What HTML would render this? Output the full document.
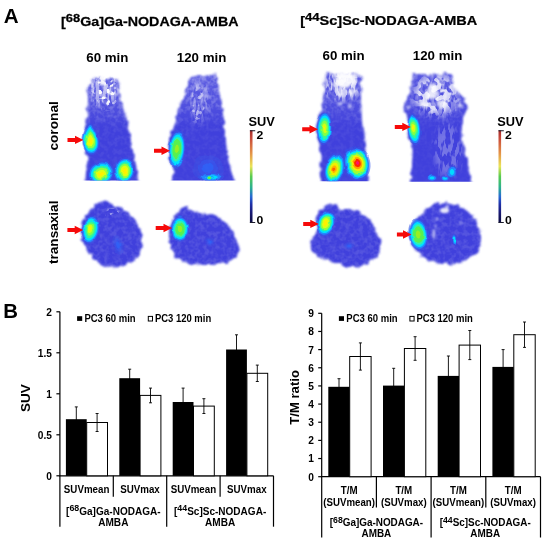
<!DOCTYPE html>
<html lang="en"><head><meta charset="utf-8"><title>Figure</title>
<style>
html,body{margin:0;padding:0;background:#fff;}
svg{display:block;}
text{font-family:"Liberation Sans",sans-serif;font-weight:bold;fill:#000;}
</style></head><body>
<svg width="550" height="545" viewBox="0 0 550 545">
<defs>
<filter id="rough" x="-10%" y="-10%" width="120%" height="120%">
<feTurbulence type="fractalNoise" baseFrequency="0.16" numOctaves="2" seed="4" result="n"/>
<feDisplacementMap in="SourceGraphic" in2="n" scale="6" xChannelSelector="R" yChannelSelector="G"/>
<feGaussianBlur stdDeviation="1.1"/>
</filter>
<filter id="b1" x="-20%" y="-20%" width="140%" height="140%"><feGaussianBlur stdDeviation="0.9"/></filter>
<filter id="b2" x="-30%" y="-30%" width="160%" height="160%"><feGaussianBlur stdDeviation="1.5"/></filter>
<filter id="rough2" x="-10%" y="-10%" width="120%" height="120%">
<feTurbulence type="fractalNoise" baseFrequency="0.09" numOctaves="2" seed="11" result="n"/>
<feDisplacementMap in="SourceGraphic" in2="n" scale="6" xChannelSelector="R" yChannelSelector="G"/>
</filter>
<filter id="speckA" x="0" y="0" width="1" height="1">
<feTurbulence type="fractalNoise" baseFrequency="0.2" numOctaves="2" seed="7" result="n"/>
<feColorMatrix in="n" type="matrix" values="0 0 0 0 1  0 0 0 0 1  0 0 0 0 1  0 0 0 9 -5.0" result="m"/>
<feComposite in="m" in2="SourceGraphic" operator="in"/>
<feGaussianBlur stdDeviation="0.5"/>
</filter>
<filter id="speckB" x="0" y="0" width="1" height="1">
<feTurbulence type="fractalNoise" baseFrequency="0.14" numOctaves="2" seed="3" result="n"/>
<feColorMatrix in="n" type="matrix" values="0 0 0 0 1  0 0 0 0 1  0 0 0 0 1  0 0 0 10 -4.7" result="m"/>
<feComposite in="m" in2="SourceGraphic" operator="in"/>
<feGaussianBlur stdDeviation="0.5"/>
</filter>
<filter id="speckC" x="0" y="0" width="1" height="1">
<feTurbulence type="fractalNoise" baseFrequency="0.26 0.09" numOctaves="2" seed="5" result="n"/>
<feColorMatrix in="n" type="matrix" values="0 0 0 0 1  0 0 0 0 1  0 0 0 0 1  0 0 0 9 -4.2" result="m"/>
<feComposite in="m" in2="SourceGraphic" operator="in"/>
<feGaussianBlur stdDeviation="0.55"/>
</filter>
<radialGradient id="wfade">
<stop offset="0" stop-color="#fff" stop-opacity="1"/>
<stop offset="0.6" stop-color="#fff" stop-opacity="0.9"/>
<stop offset="1" stop-color="#fff" stop-opacity="0"/>
</radialGradient>
<linearGradient id="fadeDown" x1="0" y1="0" x2="0" y2="1">
<stop offset="0" stop-color="#fff" stop-opacity="1"/>
<stop offset="0.6" stop-color="#fff" stop-opacity="0.8"/>
<stop offset="1" stop-color="#fff" stop-opacity="0"/>
</linearGradient>
<linearGradient id="cbar" x1="0" y1="0" x2="0" y2="1">
<stop offset="0" stop-color="#a02c2c"/>
<stop offset="0.08" stop-color="#c8483a"/>
<stop offset="0.25" stop-color="#e49448"/>
<stop offset="0.39" stop-color="#eae458"/>
<stop offset="0.5" stop-color="#58cc50"/>
<stop offset="0.62" stop-color="#2cb090"/>
<stop offset="0.72" stop-color="#2868d4"/>
<stop offset="0.8" stop-color="#2030a8"/>
<stop offset="0.9" stop-color="#181870"/>
<stop offset="1" stop-color="#0c0c40"/>
</linearGradient>
<!-- hot spot gradients (jet) -->
<radialGradient id="gY">
<stop offset="0" stop-color="#fff000"/>
<stop offset="0.2" stop-color="#e4ff10"/>
<stop offset="0.38" stop-color="#90ff40"/>
<stop offset="0.52" stop-color="#30f4a0"/>
<stop offset="0.65" stop-color="#00e0ff"/>
<stop offset="0.77" stop-color="#2090ff"/>
<stop offset="0.9" stop-color="#3c50e4" stop-opacity="0.7"/>
<stop offset="1" stop-color="#4040dc" stop-opacity="0"/>
</radialGradient>
<radialGradient id="gG">
<stop offset="0" stop-color="#b0f020"/>
<stop offset="0.25" stop-color="#70f040"/>
<stop offset="0.45" stop-color="#40f090"/>
<stop offset="0.62" stop-color="#00e0ff"/>
<stop offset="0.77" stop-color="#2090ff"/>
<stop offset="0.9" stop-color="#3c50e4" stop-opacity="0.7"/>
<stop offset="1" stop-color="#4040dc" stop-opacity="0"/>
</radialGradient>
<radialGradient id="gR">
<stop offset="0" stop-color="#ff1070"/>
<stop offset="0.1" stop-color="#ff2000"/>
<stop offset="0.24" stop-color="#ff9000"/>
<stop offset="0.38" stop-color="#f8f000"/>
<stop offset="0.52" stop-color="#70ff50"/>
<stop offset="0.65" stop-color="#00e0ff"/>
<stop offset="0.77" stop-color="#2090ff"/>
<stop offset="0.9" stop-color="#3c50e4" stop-opacity="0.7"/>
<stop offset="1" stop-color="#4040dc" stop-opacity="0"/>
</radialGradient>
<radialGradient id="gO">
<stop offset="0" stop-color="#ff6000"/>
<stop offset="0.15" stop-color="#ffa800"/>
<stop offset="0.34" stop-color="#f0f000"/>
<stop offset="0.5" stop-color="#70ff50"/>
<stop offset="0.65" stop-color="#00e0ff"/>
<stop offset="0.77" stop-color="#2090ff"/>
<stop offset="0.9" stop-color="#3c50e4" stop-opacity="0.7"/>
<stop offset="1" stop-color="#4040dc" stop-opacity="0"/>
</radialGradient>
<radialGradient id="gC">
<stop offset="0" stop-color="#00e8ff"/>
<stop offset="0.45" stop-color="#2098ff"/>
<stop offset="0.8" stop-color="#3c50e4" stop-opacity="0.7"/>
<stop offset="1" stop-color="#4040dc" stop-opacity="0"/>
</radialGradient>
<radialGradient id="gB">
<stop offset="0" stop-color="#2a68ff"/>
<stop offset="1" stop-color="#4040dc" stop-opacity="0"/>
</radialGradient>
<linearGradient id="vfade" x1="0" y1="0" x2="0" y2="1">
<stop offset="0" stop-color="#fff" stop-opacity="0.55"/>
<stop offset="0.3" stop-color="#fff" stop-opacity="0.35"/>
<stop offset="0.5" stop-color="#fff" stop-opacity="0.12"/>
<stop offset="1" stop-color="#fff" stop-opacity="0.06"/>
</linearGradient>
<linearGradient id="vsmooth" x1="0" y1="0" x2="0" y2="1">
<stop offset="0" stop-color="#fff" stop-opacity="0.3"/>
<stop offset="0.25" stop-color="#fff" stop-opacity="0.2"/>
<stop offset="0.5" stop-color="#fff" stop-opacity="0"/>
</linearGradient>
<filter id="hotf" x="-10%" y="-10%" width="120%" height="120%">
<feTurbulence type="fractalNoise" baseFrequency="0.1" numOctaves="2" seed="11" result="n"/>
<feDisplacementMap in="SourceGraphic" in2="n" scale="3" xChannelSelector="R" yChannelSelector="G"/>
<feGaussianBlur stdDeviation="0.75"/>
</filter>
<filter id="mottle" x="0" y="0" width="1" height="1">
<feTurbulence type="fractalNoise" baseFrequency="0.22" numOctaves="2" seed="21" result="n"/>
<feColorMatrix in="n" type="matrix" values="0 0 0 0 1  0 0 0 0 1  0 0 0 0 1  0 0 0 3 -1.15" result="m"/>
<feComposite in="m" in2="SourceGraphic" operator="in"/>
<feGaussianBlur stdDeviation="0.6"/>
</filter>
</defs>
<rect width="550" height="545" fill="#fff"/>

<text x="3.8" y="22.6" font-size="20.6">A</text>
<text transform="translate(61 26.4) scale(1.115 1)" font-size="12.8" stroke="#000" stroke-width="0.25">[<tspan dy="-4.3" font-size="11.6">68</tspan><tspan dy="4.3">Ga]Ga-NODAGA-AMBA</tspan></text>
<text transform="translate(300.2 25.4) scale(1.131 1)" font-size="12.8" stroke="#000" stroke-width="0.25">[<tspan dy="-4.3" font-size="11.6">44</tspan><tspan dy="4.3">Sc]Sc-NODAGA-AMBA</tspan></text>
<text x="107.3" y="61.6" font-size="13.3" text-anchor="middle">60 min</text>
<text x="201.6" y="61.6" font-size="13.3" text-anchor="middle">120 min</text>
<text x="343.6" y="60.4" font-size="13.3" text-anchor="middle">60 min</text>
<text x="437.6" y="60.4" font-size="13.3" text-anchor="middle">120 min</text>
<text transform="translate(58.3 125.9) rotate(-90)" font-size="13.7" text-anchor="middle">coronal</text>
<text transform="translate(58.3 232.3) rotate(-90)" font-size="13.6" text-anchor="middle">transaxial</text>
<clipPath id="cp1"><rect x="75" y="72" width="70" height="108.6"/></clipPath>
<g clip-path="url(#cp1)">
<path d="M94.0 79.0C95.7 78.2 97.7 78.1 100.0 78.0C102.3 77.9 105.2 78.5 108.0 78.5C110.8 78.5 114.7 76.9 116.5 78.0C118.3 79.1 118.4 82.5 119.0 85.0C119.6 87.5 119.4 89.8 120.0 93.0C120.6 96.2 121.7 100.3 122.5 104.0C123.3 107.7 124.1 111.5 125.0 115.0C125.9 118.5 127.1 121.2 128.0 125.0C128.9 128.8 129.5 132.8 130.5 138.0C131.5 143.2 133.0 151.0 134.0 156.0C135.0 161.0 135.8 164.0 136.5 168.0C137.2 172.0 137.7 176.0 138.0 180.0C138.3 184.0 147.2 190.0 138.5 192.0C129.8 194.0 94.3 194.0 85.5 192.0C76.7 190.0 85.4 183.3 85.5 180.0C85.6 176.7 85.7 175.7 86.0 172.0C86.3 168.3 87.6 161.3 87.5 158.0C87.4 154.7 86.2 154.5 85.5 152.0C84.8 149.5 83.9 145.8 83.6 143.0C83.3 140.2 83.3 137.8 83.6 135.0C83.9 132.2 84.9 129.3 85.5 126.0C86.1 122.7 86.6 119.3 87.0 115.0C87.4 110.7 87.9 104.2 88.0 100.0C88.1 95.8 87.2 92.8 87.5 90.0C87.8 87.2 88.9 84.8 90.0 83.0C91.1 81.2 92.3 79.8 94.0 79.0Z" fill="#4040dc" filter="url(#rough)"/>
<rect x="75" y="72" width="70" height="112" fill="url(#vsmooth)" opacity="0.6"/>
<rect x="75" y="72" width="70" height="112" fill="url(#vfade)" opacity="0.6" filter="url(#mottle)"/>
<ellipse cx="105" cy="92" rx="16" ry="20" fill="url(#wfade)" opacity="1.0" filter="url(#speckA)"/>
<ellipse cx="104" cy="90" rx="19" ry="20" fill="url(#wfade)" opacity="0.55" filter="url(#speckC)"/>
<ellipse cx="106" cy="80" rx="16" ry="7" fill="url(#wfade)" opacity="0.9" filter="url(#speckB)"/>
<g filter="url(#hotf)">
<path d="M90.2 122.9C91.5 123.0 93.0 125.4 94.2 127.2C95.4 129.1 96.4 131.8 97.3 134.1C98.1 136.3 99.0 138.6 99.3 140.9C99.5 143.2 99.4 145.7 98.8 147.7C98.2 149.7 97.1 151.9 95.8 153.0C94.5 154.2 92.7 154.8 91.1 154.8C89.5 154.7 87.7 153.9 86.4 152.7C85.1 151.4 83.8 149.1 83.2 147.1C82.5 145.0 82.2 142.6 82.3 140.3C82.4 137.9 82.9 135.1 83.7 132.8C84.4 130.5 85.7 128.3 86.8 126.6C87.9 125.0 89.0 122.8 90.2 122.9Z" fill="#3458ea" fill-opacity="0.55"/><path d="M90.3 125.0C91.4 125.1 92.7 127.2 93.8 128.8C94.8 130.5 95.8 132.9 96.5 134.9C97.3 136.9 98.1 138.9 98.3 140.9C98.5 143.0 98.4 145.2 97.9 147.0C97.3 148.8 96.4 150.7 95.2 151.7C94.1 152.8 92.4 153.3 91.0 153.3C89.6 153.2 88.0 152.5 86.9 151.4C85.7 150.3 84.6 148.3 84.0 146.4C83.4 144.6 83.2 142.5 83.2 140.4C83.3 138.3 83.8 135.8 84.4 133.8C85.1 131.8 86.2 129.8 87.2 128.3C88.2 126.8 89.2 124.9 90.3 125.0Z" fill="#2488ff" fill-opacity="1"/><path d="M90.3 127.1C91.3 127.2 92.5 129.0 93.4 130.5C94.3 131.9 95.1 134.0 95.8 135.7C96.4 137.5 97.1 139.3 97.3 141.0C97.5 142.8 97.4 144.7 96.9 146.3C96.5 147.9 95.6 149.5 94.6 150.4C93.6 151.3 92.2 151.8 91.0 151.8C89.8 151.7 88.4 151.1 87.3 150.1C86.3 149.1 85.4 147.4 84.8 145.8C84.3 144.2 84.1 142.4 84.2 140.5C84.2 138.7 84.6 136.5 85.2 134.8C85.8 133.0 86.8 131.3 87.6 130.0C88.5 128.7 89.4 127.0 90.3 127.1Z" fill="#00e0ff" fill-opacity="1"/><path d="M90.4 129.5C91.2 129.6 92.2 131.1 92.9 132.3C93.7 133.5 94.4 135.2 94.9 136.7C95.5 138.2 96.0 139.6 96.2 141.1C96.4 142.6 96.3 144.2 95.9 145.5C95.5 146.8 94.8 148.2 94.0 148.9C93.1 149.7 91.9 150.1 90.9 150.1C89.9 150.0 88.7 149.5 87.9 148.7C87.0 147.9 86.2 146.4 85.8 145.1C85.4 143.8 85.2 142.2 85.2 140.7C85.3 139.2 85.6 137.4 86.1 135.9C86.6 134.4 87.4 133.0 88.1 131.9C88.8 130.8 89.6 129.4 90.4 129.5Z" fill="#30f4a0" fill-opacity="1"/><path d="M90.4 131.9C91.0 132.0 91.8 133.2 92.5 134.1C93.1 135.1 93.6 136.5 94.1 137.7C94.5 138.8 95.0 140.0 95.1 141.2C95.2 142.4 95.1 143.7 94.8 144.7C94.5 145.7 93.9 146.8 93.3 147.5C92.6 148.1 91.7 148.4 90.9 148.3C90.0 148.3 89.1 147.9 88.4 147.3C87.7 146.6 87.1 145.4 86.8 144.4C86.4 143.3 86.3 142.1 86.3 140.9C86.4 139.6 86.6 138.2 87.0 137.0C87.4 135.8 88.1 134.7 88.6 133.8C89.2 133.0 89.8 131.8 90.4 131.9Z" fill="#90ff40" fill-opacity="1"/><path d="M90.5 134.8C90.9 134.8 91.5 135.6 91.9 136.3C92.3 137.0 92.7 138.0 93.0 138.8C93.3 139.6 93.7 140.5 93.8 141.3C93.8 142.1 93.8 143.0 93.6 143.8C93.4 144.5 93.0 145.3 92.5 145.7C92.0 146.1 91.3 146.3 90.8 146.3C90.2 146.3 89.5 146.0 89.1 145.6C88.6 145.1 88.1 144.3 87.9 143.5C87.7 142.8 87.6 141.9 87.6 141.1C87.6 140.2 87.8 139.2 88.1 138.3C88.3 137.5 88.8 136.7 89.2 136.1C89.6 135.5 90.0 134.7 90.5 134.8Z" fill="#e0ff10" fill-opacity="1"/><path d="M90.5 137.8C90.8 137.8 91.1 138.2 91.3 138.6C91.6 139.0 91.8 139.5 91.9 140.0C92.1 140.5 92.3 140.9 92.3 141.4C92.4 141.8 92.4 142.3 92.2 142.8C92.1 143.2 91.9 143.6 91.6 143.8C91.4 144.1 91.0 144.2 90.7 144.2C90.4 144.2 90.0 144.0 89.8 143.8C89.5 143.5 89.2 143.0 89.1 142.6C89.0 142.2 88.9 141.7 88.9 141.2C88.9 140.8 89.0 140.2 89.2 139.8C89.3 139.3 89.6 138.8 89.8 138.5C90.0 138.2 90.3 137.7 90.5 137.8Z" fill="#fff000" fill-opacity="1"/>
<path d="M113.0 167.5C113.7 168.8 114.0 170.5 114.0 172.0C114.0 173.5 113.6 175.2 113.0 176.7C112.3 178.2 111.3 179.6 110.1 180.8C108.9 182.0 107.4 183.1 105.9 183.8C104.3 184.5 102.5 185.0 100.8 185.2C99.2 185.3 97.4 185.1 95.8 184.7C94.3 184.2 92.8 183.4 91.6 182.5C90.4 181.5 89.4 180.2 88.7 178.8C88.1 177.4 87.8 175.8 87.8 174.3C87.8 172.7 88.1 171.1 88.8 169.6C89.4 168.1 90.4 166.6 91.6 165.4C92.8 164.3 94.4 163.2 95.9 162.5C97.4 161.7 99.3 161.3 100.9 161.1C102.6 161.0 104.4 161.1 105.9 161.6C107.5 162.0 109.0 162.8 110.2 163.8C111.4 164.8 112.4 166.1 113.0 167.5Z" fill="#3458ea" fill-opacity="0.55"/><path d="M111.7 168.3C112.3 169.5 112.6 171.0 112.6 172.3C112.6 173.7 112.3 175.2 111.7 176.5C111.1 177.8 110.2 179.1 109.2 180.2C108.1 181.2 106.7 182.2 105.4 182.8C104.0 183.5 102.4 183.9 100.9 184.0C99.4 184.2 97.8 184.0 96.5 183.6C95.1 183.2 93.7 182.5 92.7 181.6C91.6 180.7 90.7 179.6 90.2 178.4C89.6 177.2 89.3 175.7 89.3 174.4C89.3 173.0 89.6 171.5 90.2 170.2C90.8 168.9 91.7 167.6 92.7 166.5C93.8 165.5 95.2 164.5 96.5 163.9C97.9 163.2 99.5 162.8 101.0 162.7C102.5 162.5 104.1 162.7 105.4 163.1C106.8 163.5 108.2 164.2 109.2 165.1C110.3 166.0 111.2 167.1 111.7 168.3Z" fill="#2488ff" fill-opacity="1"/><path d="M110.4 169.2C110.9 170.2 111.2 171.5 111.2 172.7C111.2 173.9 110.9 175.2 110.4 176.3C109.9 177.4 109.1 178.6 108.2 179.5C107.3 180.4 106.1 181.3 104.9 181.8C103.7 182.4 102.3 182.8 101.0 182.9C99.7 183.0 98.3 182.9 97.1 182.5C95.9 182.2 94.7 181.5 93.8 180.8C92.9 180.0 92.1 179.0 91.6 177.9C91.1 176.9 90.9 175.6 90.9 174.4C90.9 173.3 91.2 172.0 91.7 170.8C92.2 169.7 92.9 168.5 93.9 167.6C94.8 166.7 96.0 165.9 97.2 165.3C98.4 164.7 99.8 164.4 101.1 164.2C102.4 164.1 103.7 164.3 104.9 164.6C106.1 165.0 107.3 165.6 108.2 166.3C109.1 167.1 109.9 168.1 110.4 169.2Z" fill="#00e0ff" fill-opacity="1"/><path d="M108.9 170.1C109.3 171.0 109.6 172.1 109.6 173.1C109.6 174.1 109.3 175.1 108.9 176.1C108.5 177.0 107.8 178.0 107.1 178.8C106.3 179.5 105.3 180.2 104.3 180.7C103.3 181.2 102.2 181.5 101.1 181.6C100.0 181.7 98.8 181.5 97.8 181.3C96.8 181.0 95.9 180.4 95.1 179.8C94.3 179.2 93.7 178.3 93.3 177.5C92.9 176.6 92.6 175.5 92.6 174.5C92.6 173.5 92.9 172.5 93.3 171.5C93.7 170.6 94.4 169.6 95.1 168.8C95.9 168.1 96.9 167.4 97.9 166.9C98.9 166.4 100.0 166.1 101.1 166.0C102.2 165.9 103.4 166.1 104.4 166.3C105.4 166.6 106.3 167.2 107.1 167.8C107.9 168.4 108.5 169.3 108.9 170.1Z" fill="#30f4a0" fill-opacity="1"/><path d="M107.4 171.1C107.8 171.8 108.0 172.7 108.0 173.4C107.9 174.2 107.8 175.1 107.4 175.9C107.1 176.6 106.6 177.4 106.0 178.0C105.3 178.6 104.5 179.2 103.7 179.6C103.0 179.9 102.0 180.2 101.2 180.2C100.3 180.3 99.4 180.2 98.6 180.0C97.8 179.8 97.0 179.4 96.4 178.8C95.8 178.3 95.2 177.7 94.9 177.0C94.6 176.3 94.4 175.4 94.4 174.6C94.4 173.8 94.6 173.0 94.9 172.2C95.3 171.4 95.8 170.7 96.4 170.1C97.0 169.5 97.8 168.9 98.6 168.5C99.4 168.2 100.3 167.9 101.2 167.8C102.1 167.8 103.0 167.8 103.8 168.1C104.6 168.3 105.4 168.7 106.0 169.2C106.6 169.7 107.1 170.4 107.4 171.1Z" fill="#90ff40" fill-opacity="1"/><path d="M105.7 172.3C105.9 172.8 106.0 173.4 106.0 173.9C106.0 174.5 105.9 175.1 105.7 175.6C105.4 176.1 105.1 176.7 104.6 177.1C104.2 177.5 103.6 177.9 103.1 178.2C102.5 178.5 101.9 178.6 101.3 178.7C100.7 178.7 100.0 178.7 99.4 178.5C98.9 178.4 98.3 178.1 97.9 177.7C97.5 177.3 97.1 176.9 96.9 176.4C96.6 175.9 96.5 175.3 96.5 174.7C96.5 174.2 96.6 173.6 96.9 173.0C97.1 172.5 97.5 172.0 97.9 171.5C98.4 171.1 98.9 170.7 99.5 170.5C100.0 170.2 100.7 170.0 101.3 170.0C101.9 169.9 102.6 170.0 103.1 170.1C103.7 170.3 104.2 170.6 104.7 170.9C105.1 171.3 105.4 171.8 105.7 172.3Z" fill="#e0ff10" fill-opacity="1"/><path d="M103.8 173.5C104.0 173.8 104.0 174.1 104.0 174.4C104.0 174.7 103.9 175.0 103.8 175.3C103.7 175.6 103.5 175.9 103.2 176.2C103.0 176.4 102.7 176.6 102.4 176.8C102.1 176.9 101.7 177.0 101.4 177.1C101.0 177.1 100.7 177.0 100.4 177.0C100.0 176.9 99.7 176.7 99.5 176.5C99.3 176.3 99.1 176.0 98.9 175.8C98.8 175.5 98.7 175.2 98.7 174.9C98.7 174.5 98.8 174.2 98.9 173.9C99.1 173.6 99.3 173.3 99.5 173.1C99.8 172.8 100.1 172.6 100.4 172.5C100.7 172.3 101.0 172.2 101.4 172.2C101.7 172.2 102.1 172.2 102.4 172.3C102.7 172.4 103.0 172.5 103.3 172.7C103.5 172.9 103.7 173.2 103.8 173.5Z" fill="#fff000" fill-opacity="1"/>
<path d="M134.6 172.3C134.3 173.9 133.8 175.6 133.0 177.1C132.2 178.5 131.2 179.8 130.1 180.8C129.0 181.8 127.6 182.6 126.3 183.0C125.0 183.4 123.5 183.6 122.2 183.3C120.9 183.1 119.6 182.5 118.5 181.7C117.4 180.8 116.4 179.6 115.7 178.3C115.0 177.0 114.5 175.4 114.3 173.8C114.0 172.2 114.1 170.3 114.4 168.7C114.7 167.1 115.2 165.4 116.0 163.9C116.8 162.5 117.8 161.2 118.9 160.2C120.0 159.2 121.4 158.4 122.7 158.0C124.0 157.6 125.5 157.4 126.8 157.7C128.1 157.9 129.4 158.5 130.5 159.3C131.6 160.2 132.6 161.4 133.3 162.7C134.0 164.0 134.5 165.6 134.7 167.2C135.0 168.8 134.9 170.7 134.6 172.3Z" fill="#3458ea" fill-opacity="0.55"/><path d="M133.5 172.1C133.2 173.5 132.7 175.1 132.0 176.3C131.4 177.6 130.4 178.8 129.4 179.7C128.4 180.5 127.2 181.2 126.1 181.6C124.9 182.0 123.6 182.1 122.5 181.9C121.3 181.7 120.2 181.1 119.2 180.4C118.2 179.7 117.4 178.6 116.7 177.4C116.1 176.3 115.6 174.8 115.4 173.4C115.2 172.0 115.3 170.4 115.5 168.9C115.8 167.5 116.3 165.9 117.0 164.7C117.6 163.4 118.6 162.2 119.6 161.3C120.6 160.5 121.8 159.8 122.9 159.4C124.1 159.0 125.4 158.9 126.5 159.1C127.7 159.3 128.8 159.9 129.8 160.6C130.8 161.3 131.6 162.4 132.3 163.6C132.9 164.7 133.4 166.2 133.6 167.6C133.8 169.0 133.7 170.6 133.5 172.1Z" fill="#2488ff" fill-opacity="1"/><path d="M132.3 171.9C132.1 173.1 131.7 174.5 131.1 175.6C130.5 176.7 129.7 177.7 128.8 178.5C127.9 179.3 126.9 179.9 125.9 180.2C124.9 180.5 123.8 180.6 122.7 180.4C121.7 180.3 120.7 179.8 119.9 179.1C119.0 178.5 118.3 177.6 117.7 176.5C117.2 175.5 116.8 174.3 116.6 173.0C116.4 171.8 116.4 170.4 116.7 169.1C116.9 167.9 117.3 166.5 117.9 165.4C118.5 164.3 119.3 163.3 120.2 162.5C121.1 161.7 122.1 161.1 123.1 160.8C124.1 160.5 125.2 160.4 126.3 160.6C127.3 160.7 128.3 161.2 129.1 161.9C130.0 162.5 130.7 163.4 131.3 164.5C131.8 165.5 132.2 166.7 132.4 168.0C132.6 169.2 132.6 170.6 132.3 171.9Z" fill="#00e0ff" fill-opacity="1"/><path d="M131.0 171.7C130.9 172.7 130.5 173.8 130.0 174.7C129.5 175.6 128.8 176.5 128.1 177.2C127.4 177.8 126.5 178.3 125.7 178.6C124.8 178.9 123.9 178.9 123.0 178.8C122.2 178.6 121.3 178.2 120.6 177.7C120.0 177.2 119.3 176.4 118.8 175.5C118.4 174.7 118.0 173.6 117.9 172.6C117.8 171.6 117.8 170.4 118.0 169.3C118.1 168.3 118.5 167.2 119.0 166.3C119.5 165.4 120.2 164.5 120.9 163.8C121.6 163.2 122.5 162.7 123.3 162.4C124.2 162.1 125.1 162.1 126.0 162.2C126.8 162.4 127.7 162.8 128.4 163.3C129.0 163.8 129.7 164.6 130.2 165.5C130.6 166.3 131.0 167.4 131.1 168.4C131.2 169.4 131.2 170.6 131.0 171.7Z" fill="#30f4a0" fill-opacity="1"/><path d="M129.7 171.4C129.6 172.3 129.3 173.1 128.9 173.9C128.5 174.6 128.0 175.3 127.4 175.8C126.8 176.3 126.1 176.8 125.4 177.0C124.8 177.2 124.0 177.2 123.3 177.1C122.7 177.0 122.0 176.7 121.4 176.3C120.9 175.8 120.3 175.2 120.0 174.5C119.6 173.8 119.3 173.0 119.2 172.2C119.1 171.4 119.1 170.4 119.3 169.6C119.4 168.7 119.7 167.9 120.1 167.1C120.5 166.4 121.0 165.7 121.6 165.2C122.2 164.7 122.9 164.2 123.6 164.0C124.2 163.8 125.0 163.8 125.7 163.9C126.3 164.0 127.0 164.3 127.6 164.7C128.1 165.2 128.7 165.8 129.0 166.5C129.4 167.2 129.7 168.0 129.8 168.8C129.9 169.6 129.9 170.6 129.7 171.4Z" fill="#90ff40" fill-opacity="1"/><path d="M128.2 171.1C128.1 171.7 127.9 172.4 127.6 172.9C127.3 173.4 126.9 173.9 126.5 174.2C126.1 174.6 125.6 174.9 125.1 175.0C124.7 175.2 124.1 175.2 123.7 175.2C123.2 175.1 122.7 174.9 122.3 174.6C121.9 174.2 121.6 173.8 121.3 173.3C121.1 172.9 120.9 172.3 120.8 171.7C120.7 171.1 120.7 170.4 120.8 169.9C120.9 169.3 121.1 168.6 121.4 168.1C121.7 167.6 122.1 167.1 122.5 166.8C122.9 166.4 123.4 166.1 123.9 166.0C124.3 165.8 124.9 165.8 125.3 165.8C125.8 165.9 126.3 166.1 126.7 166.4C127.1 166.8 127.4 167.2 127.7 167.7C127.9 168.1 128.1 168.7 128.2 169.3C128.3 169.9 128.3 170.6 128.2 171.1Z" fill="#e0ff10" fill-opacity="1"/><path d="M126.5 170.9C126.5 171.2 126.4 171.5 126.2 171.8C126.1 172.1 125.8 172.4 125.6 172.6C125.4 172.8 125.1 172.9 124.9 173.0C124.6 173.1 124.3 173.1 124.0 173.1C123.8 173.0 123.5 172.9 123.3 172.8C123.1 172.6 122.9 172.3 122.7 172.1C122.6 171.8 122.5 171.5 122.4 171.2C122.4 170.8 122.4 170.5 122.5 170.1C122.5 169.8 122.6 169.5 122.8 169.2C122.9 168.9 123.2 168.6 123.4 168.4C123.6 168.2 123.9 168.1 124.1 168.0C124.4 167.9 124.7 167.9 125.0 167.9C125.2 168.0 125.5 168.1 125.7 168.2C125.9 168.4 126.1 168.7 126.3 168.9C126.4 169.2 126.5 169.5 126.6 169.8C126.6 170.2 126.6 170.5 126.5 170.9Z" fill="#fff000" fill-opacity="1"/>
</g>

</g>
<path d="M67.5 137.9H75.0V135.7L83.5 139.9L75.0 144.1V141.9H67.5Z" fill="#f60a0a"/>
<clipPath id="cp2"><rect x="160" y="71" width="85" height="109.6"/></clipPath>
<g clip-path="url(#cp2)">
<path d="M191.5 76.5C193.1 75.2 195.4 75.2 198.0 75.0C200.6 74.8 204.2 75.5 207.0 75.5C209.8 75.5 213.2 73.9 215.0 75.0C216.8 76.1 216.6 79.3 217.5 82.0C218.4 84.7 219.8 87.3 220.5 91.0C221.2 94.7 221.5 99.5 222.0 104.0C222.5 108.5 222.9 112.8 223.5 118.0C224.1 123.2 224.9 129.3 225.5 135.0C226.1 140.7 226.2 146.8 227.0 152.0C227.8 157.2 228.8 161.3 230.0 166.0C231.2 170.7 233.0 175.7 234.0 180.0C235.0 184.3 246.2 190.0 236.0 192.0C225.8 194.0 183.5 194.0 173.0 192.0C162.5 190.0 172.9 183.7 173.0 180.0C173.1 176.3 173.8 173.0 173.5 170.0C173.2 167.0 171.8 165.0 171.0 162.0C170.2 159.0 169.2 155.3 169.0 152.0C168.8 148.7 168.9 145.5 169.5 142.0C170.1 138.5 171.5 134.5 172.5 131.0C173.5 127.5 174.5 124.5 175.5 121.0C176.5 117.5 177.3 113.7 178.5 110.0C179.7 106.3 181.3 102.2 182.5 99.0C183.7 95.8 184.5 93.7 185.5 91.0C186.5 88.3 187.5 85.4 188.5 83.0C189.5 80.6 189.9 77.8 191.5 76.5Z" fill="#4040dc" filter="url(#rough)"/>
<rect x="160" y="71" width="85" height="112" fill="url(#vsmooth)" opacity="0.55"/>
<rect x="160" y="71" width="85" height="112" fill="url(#vfade)" opacity="0.55" filter="url(#mottle)"/>
<ellipse cx="198" cy="104" rx="9" ry="24" fill="url(#wfade)" opacity="0.5" filter="url(#speckA)"/>
<ellipse cx="200" cy="100" rx="13" ry="26" fill="url(#wfade)" opacity="0.3" filter="url(#speckC)"/>
<g filter="url(#hotf)">
<path d="M185.2 150.0C185.0 152.5 184.5 155.1 183.9 157.3C183.3 159.5 182.5 161.6 181.6 163.3C180.7 164.9 179.5 166.3 178.5 167.2C177.4 168.0 176.2 168.4 175.1 168.3C174.1 168.2 173.0 167.6 172.0 166.6C171.1 165.6 170.3 164.0 169.7 162.2C169.1 160.4 168.6 158.2 168.4 155.9C168.2 153.6 168.2 151.0 168.4 148.6C168.6 146.1 169.1 143.5 169.7 141.3C170.3 139.1 171.1 137.0 172.0 135.3C172.9 133.7 174.1 132.3 175.1 131.4C176.2 130.6 177.4 130.2 178.5 130.3C179.5 130.4 180.6 131.0 181.6 132.0C182.5 133.0 183.3 134.6 183.9 136.4C184.5 138.2 185.0 140.4 185.2 142.7C185.4 145.0 185.4 147.6 185.2 150.0Z" fill="#3458ea" fill-opacity="0.55"/><path d="M184.3 150.0C184.1 152.1 183.7 154.4 183.1 156.4C182.6 158.3 181.8 160.2 181.0 161.7C180.2 163.2 179.2 164.4 178.3 165.1C177.3 165.9 176.3 166.3 175.3 166.2C174.4 166.1 173.4 165.5 172.6 164.6C171.8 163.7 171.0 162.4 170.5 160.8C169.9 159.2 169.5 157.2 169.4 155.2C169.2 153.1 169.2 150.8 169.3 148.6C169.5 146.5 169.9 144.2 170.5 142.2C171.0 140.3 171.8 138.4 172.6 136.9C173.4 135.4 174.4 134.2 175.3 133.5C176.3 132.7 177.3 132.3 178.3 132.4C179.2 132.5 180.2 133.1 181.0 134.0C181.8 134.9 182.6 136.2 183.1 137.8C183.7 139.4 184.1 141.4 184.2 143.4C184.4 145.5 184.4 147.8 184.3 150.0Z" fill="#2488ff" fill-opacity="1"/><path d="M183.3 149.9C183.1 151.7 182.8 153.8 182.3 155.5C181.8 157.2 181.2 158.8 180.5 160.1C179.8 161.4 178.9 162.5 178.1 163.1C177.3 163.8 176.3 164.1 175.5 164.0C174.7 164.0 173.8 163.5 173.1 162.7C172.4 161.9 171.8 160.7 171.3 159.3C170.8 157.9 170.5 156.2 170.3 154.4C170.1 152.6 170.1 150.6 170.3 148.7C170.5 146.9 170.8 144.8 171.3 143.1C171.8 141.4 172.4 139.8 173.1 138.5C173.8 137.2 174.7 136.1 175.5 135.5C176.3 134.8 177.3 134.5 178.1 134.6C178.9 134.6 179.8 135.1 180.5 135.9C181.2 136.7 181.8 137.9 182.3 139.3C182.8 140.7 183.1 142.4 183.3 144.2C183.5 146.0 183.5 148.0 183.3 149.9Z" fill="#00e0ff" fill-opacity="1"/><path d="M182.2 149.8C182.1 151.3 181.8 153.0 181.4 154.4C181.0 155.9 180.5 157.2 179.9 158.3C179.3 159.4 178.6 160.3 177.9 160.8C177.2 161.4 176.4 161.6 175.7 161.6C175.0 161.5 174.3 161.1 173.7 160.5C173.1 159.8 172.6 158.8 172.2 157.6C171.8 156.5 171.5 155.0 171.4 153.6C171.2 152.1 171.2 150.4 171.4 148.8C171.5 147.3 171.8 145.6 172.2 144.2C172.6 142.7 173.1 141.4 173.7 140.3C174.3 139.2 175.0 138.3 175.7 137.8C176.4 137.2 177.2 137.0 177.9 137.0C178.6 137.1 179.3 137.5 179.9 138.1C180.5 138.8 181.0 139.8 181.4 141.0C181.8 142.1 182.1 143.6 182.2 145.0C182.4 146.5 182.4 148.2 182.2 149.8Z" fill="#30f0b0" fill-opacity="1"/><path d="M181.1 149.7C181.0 150.9 180.8 152.3 180.5 153.4C180.2 154.5 179.7 155.7 179.3 156.5C178.8 157.4 178.2 158.1 177.7 158.5C177.1 159.0 176.5 159.2 175.9 159.1C175.4 159.1 174.8 158.7 174.3 158.2C173.9 157.7 173.4 156.9 173.1 156.0C172.8 155.1 172.6 153.9 172.5 152.7C172.4 151.5 172.4 150.2 172.5 148.9C172.6 147.7 172.8 146.3 173.1 145.2C173.4 144.1 173.9 142.9 174.3 142.1C174.8 141.2 175.4 140.5 175.9 140.1C176.5 139.6 177.1 139.4 177.7 139.5C178.2 139.5 178.8 139.9 179.3 140.4C179.7 140.9 180.2 141.7 180.5 142.6C180.8 143.5 181.0 144.7 181.1 145.9C181.2 147.1 181.2 148.4 181.1 149.7Z" fill="#58f050" fill-opacity="1"/><path d="M178.8 149.5C178.8 150.1 178.7 150.7 178.5 151.2C178.4 151.8 178.2 152.3 178.0 152.7C177.7 153.1 177.5 153.4 177.2 153.6C176.9 153.8 176.7 153.9 176.4 153.9C176.1 153.9 175.9 153.7 175.7 153.5C175.4 153.2 175.2 152.9 175.1 152.4C174.9 152.0 174.8 151.4 174.8 150.9C174.7 150.3 174.7 149.7 174.8 149.1C174.8 148.5 174.9 147.9 175.1 147.4C175.2 146.8 175.4 146.3 175.6 145.9C175.9 145.5 176.1 145.2 176.4 145.0C176.7 144.8 176.9 144.7 177.2 144.7C177.5 144.7 177.7 144.9 177.9 145.1C178.2 145.4 178.4 145.7 178.5 146.2C178.7 146.6 178.8 147.2 178.8 147.7C178.9 148.3 178.9 148.9 178.8 149.5Z" fill="#98f024" fill-opacity="1"/>
<path d="M223.6 168.0C223.6 169.7 223.2 171.4 222.4 173.0C221.7 174.5 220.4 176.0 219.0 177.2C217.6 178.4 215.8 179.4 214.0 180.0C212.1 180.6 210.0 181.0 208.0 181.0C206.0 181.0 203.9 180.6 202.0 180.0C200.2 179.4 198.4 178.4 197.0 177.2C195.6 176.0 194.3 174.5 193.6 173.0C192.8 171.4 192.4 169.7 192.4 168.0C192.4 166.3 192.8 164.6 193.6 163.0C194.3 161.5 195.6 160.0 197.0 158.8C198.4 157.6 200.2 156.6 202.0 156.0C203.9 155.4 206.0 155.0 208.0 155.0C210.0 155.0 212.1 155.4 214.0 156.0C215.8 156.6 217.6 157.6 219.0 158.8C220.4 160.0 221.7 161.5 222.4 163.0C223.2 164.6 223.6 166.3 223.6 168.0Z" fill="#3a58e8" fill-opacity="0.3"/><path d="M218.2 168.0C218.2 169.1 217.9 170.3 217.4 171.3C216.9 172.3 216.1 173.2 215.2 174.0C214.3 174.8 213.1 175.4 211.9 175.9C210.7 176.3 209.3 176.5 208.0 176.5C206.7 176.5 205.3 176.3 204.1 175.9C202.9 175.4 201.7 174.8 200.8 174.0C199.9 173.2 199.1 172.3 198.6 171.3C198.1 170.3 197.8 169.1 197.8 168.0C197.8 166.9 198.1 165.7 198.6 164.7C199.1 163.7 199.9 162.8 200.8 162.0C201.7 161.2 202.9 160.6 204.1 160.1C205.3 159.7 206.7 159.5 208.0 159.5C209.3 159.5 210.7 159.7 211.9 160.1C213.1 160.6 214.3 161.2 215.2 162.0C216.1 162.8 216.9 163.7 217.4 164.7C217.9 165.7 218.2 166.9 218.2 168.0Z" fill="#3060f4" fill-opacity="0.4"/><path d="M213.4 168.0C213.4 168.6 213.3 169.2 213.0 169.7C212.7 170.3 212.3 170.8 211.8 171.2C211.3 171.6 210.7 171.9 210.1 172.2C209.4 172.4 208.7 172.5 208.0 172.5C207.3 172.5 206.6 172.4 205.9 172.2C205.3 171.9 204.7 171.6 204.2 171.2C203.7 170.8 203.3 170.3 203.0 169.7C202.7 169.2 202.6 168.6 202.6 168.0C202.6 167.4 202.7 166.8 203.0 166.3C203.3 165.7 203.7 165.2 204.2 164.8C204.7 164.4 205.3 164.1 205.9 163.8C206.6 163.6 207.3 163.5 208.0 163.5C208.7 163.5 209.4 163.6 210.1 163.8C210.7 164.1 211.3 164.4 211.8 164.8C212.3 165.2 212.7 165.7 213.0 166.3C213.3 166.8 213.4 167.4 213.4 168.0Z" fill="#2a6cff" fill-opacity="0.5"/>
<path d="M223.3 177.3C223.3 177.9 223.0 178.5 222.4 179.0C221.8 179.5 220.8 180.0 219.7 180.4C218.6 180.8 217.2 181.2 215.7 181.4C214.3 181.6 212.6 181.7 211.0 181.7C209.4 181.7 207.7 181.6 206.3 181.4C204.8 181.2 203.4 180.8 202.3 180.4C201.2 180.0 200.2 179.5 199.6 179.0C199.0 178.5 198.7 177.9 198.7 177.3C198.7 176.7 199.0 176.1 199.6 175.6C200.2 175.1 201.2 174.6 202.3 174.2C203.4 173.8 204.8 173.4 206.3 173.2C207.7 173.0 209.4 172.9 211.0 172.9C212.6 172.9 214.3 173.0 215.7 173.2C217.2 173.4 218.6 173.8 219.7 174.2C220.8 174.6 221.8 175.1 222.4 175.6C223.0 176.1 223.3 176.7 223.3 177.3Z" fill="#3458ea" fill-opacity="0.55"/><path d="M220.5 177.3C220.5 177.7 220.2 178.2 219.8 178.6C219.3 179.0 218.6 179.4 217.7 179.7C216.9 180.0 215.8 180.3 214.6 180.4C213.5 180.6 212.2 180.7 211.0 180.7C209.8 180.7 208.5 180.6 207.4 180.4C206.2 180.3 205.1 180.0 204.3 179.7C203.4 179.4 202.7 179.0 202.2 178.6C201.8 178.2 201.5 177.7 201.5 177.3C201.5 176.9 201.8 176.4 202.2 176.0C202.7 175.6 203.4 175.2 204.3 174.9C205.1 174.6 206.2 174.3 207.4 174.2C208.5 174.0 209.8 173.9 211.0 173.9C212.2 173.9 213.5 174.0 214.6 174.2C215.8 174.3 216.9 174.6 217.7 174.9C218.6 175.2 219.3 175.6 219.8 176.0C220.2 176.4 220.5 176.9 220.5 177.3Z" fill="#2488ff" fill-opacity="1"/><path d="M216.7 177.3C216.7 177.6 216.5 177.8 216.3 178.1C216.0 178.3 215.5 178.6 215.0 178.7C214.5 178.9 213.9 179.1 213.2 179.2C212.5 179.3 211.7 179.3 211.0 179.3C210.3 179.3 209.5 179.3 208.8 179.2C208.1 179.1 207.5 178.9 207.0 178.7C206.5 178.6 206.0 178.3 205.7 178.1C205.5 177.8 205.3 177.6 205.3 177.3C205.3 177.0 205.5 176.8 205.7 176.5C206.0 176.3 206.5 176.0 207.0 175.9C207.5 175.7 208.1 175.5 208.8 175.4C209.5 175.3 210.3 175.3 211.0 175.3C211.7 175.3 212.5 175.3 213.2 175.4C213.9 175.5 214.5 175.7 215.0 175.9C215.5 176.0 216.0 176.3 216.3 176.5C216.5 176.8 216.7 177.0 216.7 177.3Z" fill="#00dcff" fill-opacity="1"/>
<path d="M212.5 177.8C212.5 178.1 212.4 178.4 212.3 178.7C212.1 179.0 211.9 179.3 211.6 179.5C211.3 179.7 210.9 179.9 210.5 180.0C210.2 180.1 209.7 180.2 209.3 180.2C208.9 180.2 208.4 180.1 208.1 180.0C207.7 179.9 207.3 179.7 207.0 179.5C206.7 179.3 206.5 179.0 206.3 178.7C206.2 178.4 206.1 178.1 206.1 177.8C206.1 177.5 206.2 177.2 206.3 176.9C206.5 176.6 206.7 176.3 207.0 176.1C207.3 175.9 207.7 175.7 208.1 175.6C208.4 175.5 208.9 175.4 209.3 175.4C209.7 175.4 210.2 175.5 210.5 175.6C210.9 175.7 211.3 175.9 211.6 176.1C211.9 176.3 212.1 176.6 212.3 176.9C212.4 177.2 212.5 177.5 212.5 177.8Z" fill="#3458ea" fill-opacity="0.55"/><path d="M212.2 177.8C212.2 178.1 212.1 178.4 211.9 178.6C211.8 178.8 211.6 179.1 211.3 179.3C211.1 179.5 210.7 179.6 210.4 179.7C210.1 179.8 209.7 179.9 209.3 179.9C208.9 179.9 208.5 179.8 208.2 179.7C207.9 179.6 207.5 179.5 207.3 179.3C207.0 179.1 206.8 178.8 206.7 178.6C206.5 178.4 206.4 178.1 206.4 177.8C206.4 177.5 206.5 177.2 206.7 177.0C206.8 176.8 207.0 176.5 207.3 176.3C207.5 176.1 207.9 176.0 208.2 175.9C208.5 175.8 208.9 175.7 209.3 175.7C209.7 175.7 210.1 175.8 210.4 175.9C210.7 176.0 211.1 176.1 211.3 176.3C211.6 176.5 211.8 176.8 211.9 177.0C212.1 177.2 212.2 177.5 212.2 177.8Z" fill="#2488ff" fill-opacity="1"/><path d="M211.8 177.8C211.8 178.0 211.7 178.3 211.6 178.5C211.5 178.7 211.3 178.9 211.1 179.1C210.8 179.3 210.5 179.4 210.3 179.5C210.0 179.6 209.6 179.6 209.3 179.6C209.0 179.6 208.6 179.6 208.3 179.5C208.1 179.4 207.8 179.3 207.5 179.1C207.3 178.9 207.1 178.7 207.0 178.5C206.9 178.3 206.8 178.0 206.8 177.8C206.8 177.6 206.9 177.3 207.0 177.1C207.1 176.9 207.3 176.7 207.5 176.5C207.8 176.3 208.1 176.2 208.3 176.1C208.6 176.0 209.0 176.0 209.3 176.0C209.6 176.0 210.0 176.0 210.3 176.1C210.5 176.2 210.8 176.3 211.1 176.5C211.3 176.7 211.5 176.9 211.6 177.1C211.7 177.3 211.8 177.6 211.8 177.8Z" fill="#00e0ff" fill-opacity="1"/><path d="M211.4 177.8C211.4 178.0 211.3 178.2 211.2 178.4C211.1 178.6 211.0 178.7 210.8 178.9C210.6 179.0 210.3 179.1 210.1 179.2C209.9 179.3 209.6 179.3 209.3 179.3C209.0 179.3 208.7 179.3 208.5 179.2C208.3 179.1 208.0 179.0 207.8 178.9C207.6 178.7 207.5 178.6 207.4 178.4C207.3 178.2 207.2 178.0 207.2 177.8C207.2 177.6 207.3 177.4 207.4 177.2C207.5 177.0 207.6 176.9 207.8 176.7C208.0 176.6 208.3 176.5 208.5 176.4C208.7 176.3 209.0 176.3 209.3 176.3C209.6 176.3 209.9 176.3 210.1 176.4C210.3 176.5 210.6 176.6 210.8 176.7C211.0 176.9 211.1 177.0 211.2 177.2C211.3 177.4 211.4 177.6 211.4 177.8Z" fill="#30f0b0" fill-opacity="1"/><path d="M211.0 177.8C211.0 178.0 210.9 178.1 210.8 178.3C210.8 178.4 210.6 178.6 210.5 178.7C210.3 178.8 210.1 178.9 209.9 178.9C209.7 179.0 209.5 179.0 209.3 179.0C209.1 179.0 208.9 179.0 208.7 178.9C208.5 178.9 208.3 178.8 208.1 178.7C208.0 178.6 207.8 178.4 207.8 178.3C207.7 178.1 207.6 178.0 207.6 177.8C207.6 177.6 207.7 177.5 207.8 177.3C207.8 177.2 208.0 177.0 208.1 176.9C208.3 176.8 208.5 176.7 208.7 176.7C208.9 176.6 209.1 176.6 209.3 176.6C209.5 176.6 209.7 176.6 209.9 176.7C210.1 176.7 210.3 176.8 210.5 176.9C210.6 177.0 210.8 177.2 210.8 177.3C210.9 177.5 211.0 177.6 211.0 177.8Z" fill="#58f050" fill-opacity="1"/><path d="M210.1 177.8C210.1 177.9 210.1 178.0 210.0 178.0C210.0 178.1 209.9 178.2 209.9 178.2C209.8 178.3 209.7 178.3 209.6 178.3C209.5 178.4 209.4 178.4 209.3 178.4C209.2 178.4 209.1 178.4 209.0 178.3C208.9 178.3 208.8 178.3 208.7 178.2C208.7 178.2 208.6 178.1 208.6 178.0C208.5 178.0 208.5 177.9 208.5 177.8C208.5 177.7 208.5 177.6 208.6 177.6C208.6 177.5 208.7 177.4 208.7 177.4C208.8 177.3 208.9 177.3 209.0 177.3C209.1 177.2 209.2 177.2 209.3 177.2C209.4 177.2 209.5 177.2 209.6 177.3C209.7 177.3 209.8 177.3 209.9 177.4C209.9 177.4 210.0 177.5 210.0 177.6C210.1 177.6 210.1 177.7 210.1 177.8Z" fill="#98f024" fill-opacity="1"/>
</g>

</g>
<path d="M154.0 148.8H161.5V146.6L170.0 150.8L161.5 155.0V152.8H154.0Z" fill="#f60a0a"/>
<g>
<path d="M104.0 201.5C106.9 201.8 111.0 203.5 115.0 205.5C119.0 207.5 124.2 210.4 128.0 213.5C131.8 216.6 135.1 220.1 137.5 224.0C139.9 227.9 141.9 232.7 142.5 237.0C143.1 241.3 142.4 246.1 141.0 250.0C139.6 253.9 137.2 257.8 134.0 260.5C130.8 263.2 126.0 265.4 122.0 266.5C118.0 267.6 114.0 267.7 110.0 267.0C106.0 266.3 101.5 264.8 98.0 262.5C94.5 260.2 91.5 256.8 89.0 253.5C86.5 250.2 84.4 246.6 83.0 243.0C81.6 239.4 80.8 235.7 80.8 232.0C80.8 228.3 81.5 224.5 83.0 221.0C84.5 217.5 87.6 213.8 90.0 211.0C92.4 208.2 95.2 205.6 97.5 204.0C99.8 202.4 101.1 201.2 104.0 201.5Z" fill="#4040dc" filter="url(#rough)"/>
<rect x="75" y="196" width="75" height="76" fill="#fff" opacity="0.1" filter="url(#mottle)"/>
<ellipse cx="112" cy="213" rx="10" ry="6" fill="url(#wfade)" opacity="0.45" filter="url(#speckA)"/>
<g filter="url(#hotf)">
<path d="M99.0 231.8C98.6 233.6 98.0 235.4 97.2 237.0C96.4 238.6 95.4 240.1 94.4 241.2C93.3 242.3 92.1 243.2 90.9 243.6C89.7 244.1 88.4 244.2 87.3 244.0C86.2 243.7 85.1 243.1 84.2 242.2C83.3 241.3 82.5 240.0 82.0 238.5C81.5 237.1 81.2 235.3 81.1 233.6C81.0 231.8 81.2 229.9 81.6 228.1C81.9 226.3 82.6 224.4 83.4 222.8C84.2 221.2 85.2 219.8 86.2 218.7C87.3 217.5 88.5 216.7 89.7 216.2C90.9 215.7 92.2 215.6 93.3 215.8C94.4 216.1 95.5 216.7 96.4 217.6C97.3 218.5 98.1 219.8 98.6 221.3C99.1 222.7 99.4 224.5 99.5 226.2C99.6 228.0 99.4 230.0 99.0 231.8Z" fill="#3458ea" fill-opacity="0.55"/><path d="M98.0 231.4C97.6 233.0 97.1 234.6 96.4 236.0C95.7 237.4 94.8 238.7 93.8 239.7C92.9 240.7 91.8 241.5 90.8 241.9C89.7 242.3 88.6 242.4 87.6 242.2C86.6 242.0 85.6 241.4 84.8 240.6C84.0 239.8 83.3 238.7 82.9 237.4C82.4 236.1 82.1 234.5 82.1 233.0C82.0 231.4 82.2 229.7 82.5 228.1C82.8 226.5 83.4 224.8 84.1 223.4C84.8 222.0 85.7 220.7 86.6 219.7C87.6 218.8 88.7 218.0 89.7 217.6C90.8 217.2 91.9 217.0 92.9 217.2C93.9 217.5 94.9 218.0 95.7 218.8C96.4 219.6 97.1 220.8 97.6 222.1C98.1 223.3 98.3 224.9 98.4 226.5C98.5 228.0 98.3 229.8 98.0 231.4Z" fill="#2488ff" fill-opacity="1"/><path d="M96.9 231.0C96.6 232.4 96.1 233.8 95.5 235.0C94.9 236.3 94.1 237.4 93.3 238.3C92.5 239.1 91.5 239.8 90.6 240.2C89.7 240.5 88.7 240.6 87.9 240.4C87.0 240.3 86.1 239.8 85.5 239.1C84.8 238.4 84.2 237.3 83.8 236.2C83.4 235.1 83.1 233.7 83.1 232.4C83.0 231.0 83.1 229.5 83.4 228.1C83.7 226.7 84.2 225.3 84.8 224.1C85.4 222.8 86.2 221.7 87.0 220.8C87.9 220.0 88.8 219.3 89.7 218.9C90.6 218.6 91.6 218.5 92.5 218.7C93.4 218.8 94.2 219.3 94.9 220.0C95.6 220.7 96.2 221.7 96.6 222.9C97.0 224.0 97.3 225.4 97.3 226.7C97.4 228.1 97.2 229.6 96.9 231.0Z" fill="#00e0ff" fill-opacity="1"/><path d="M95.6 230.5C95.4 231.6 95.0 232.8 94.5 233.8C94.0 234.8 93.3 235.7 92.7 236.4C92.0 237.1 91.2 237.6 90.5 237.9C89.7 238.2 88.9 238.3 88.2 238.2C87.5 238.0 86.8 237.6 86.3 237.0C85.7 236.5 85.2 235.7 84.9 234.7C84.6 233.8 84.4 232.7 84.3 231.6C84.3 230.5 84.4 229.3 84.6 228.1C84.9 227.0 85.3 225.8 85.8 224.8C86.2 223.9 86.9 222.9 87.6 222.2C88.2 221.5 89.0 221.0 89.7 220.7C90.5 220.4 91.3 220.3 92.0 220.5C92.7 220.6 93.4 221.0 94.0 221.6C94.5 222.2 95.0 223.0 95.3 223.9C95.7 224.8 95.9 225.9 95.9 227.0C96.0 228.1 95.8 229.4 95.6 230.5Z" fill="#30f4a0" fill-opacity="1"/><path d="M94.1 229.9C93.9 230.8 93.6 231.6 93.3 232.4C92.9 233.1 92.4 233.8 91.9 234.3C91.4 234.8 90.9 235.2 90.3 235.5C89.8 235.7 89.2 235.7 88.6 235.6C88.1 235.5 87.6 235.2 87.2 234.8C86.8 234.4 86.4 233.8 86.2 233.1C85.9 232.4 85.8 231.6 85.7 230.8C85.7 230.0 85.8 229.0 85.9 228.2C86.1 227.3 86.4 226.5 86.8 225.7C87.2 225.0 87.6 224.3 88.1 223.8C88.6 223.3 89.2 222.9 89.8 222.6C90.3 222.4 90.9 222.4 91.4 222.5C92.0 222.6 92.5 222.9 92.9 223.3C93.3 223.7 93.7 224.3 93.9 225.0C94.2 225.7 94.3 226.5 94.3 227.3C94.4 228.2 94.3 229.1 94.1 229.9Z" fill="#80ff48" fill-opacity="1"/><path d="M92.5 229.3C92.4 229.8 92.2 230.4 92.0 230.8C91.7 231.3 91.4 231.7 91.1 232.0C90.8 232.4 90.5 232.6 90.1 232.7C89.8 232.9 89.4 232.9 89.1 232.9C88.8 232.8 88.4 232.6 88.2 232.3C87.9 232.1 87.7 231.7 87.5 231.3C87.4 230.9 87.3 230.3 87.3 229.8C87.2 229.3 87.3 228.8 87.4 228.2C87.5 227.7 87.7 227.2 87.9 226.7C88.2 226.3 88.5 225.8 88.8 225.5C89.1 225.2 89.4 224.9 89.8 224.8C90.1 224.7 90.5 224.6 90.8 224.7C91.1 224.8 91.5 224.9 91.7 225.2C92.0 225.5 92.2 225.8 92.4 226.3C92.5 226.7 92.6 227.2 92.6 227.7C92.6 228.2 92.6 228.8 92.5 229.3Z" fill="#d0ff18" fill-opacity="1"/><path d="M91.0 228.7C90.9 229.0 90.9 229.2 90.8 229.4C90.7 229.6 90.5 229.8 90.4 230.0C90.3 230.1 90.1 230.2 89.9 230.3C89.8 230.3 89.6 230.4 89.5 230.3C89.3 230.3 89.2 230.2 89.1 230.1C89.0 230.0 88.9 229.8 88.8 229.6C88.7 229.4 88.7 229.2 88.7 229.0C88.7 228.8 88.7 228.5 88.7 228.3C88.8 228.0 88.9 227.8 89.0 227.6C89.1 227.4 89.2 227.2 89.3 227.1C89.5 226.9 89.6 226.8 89.8 226.7C89.9 226.7 90.1 226.7 90.2 226.7C90.4 226.7 90.5 226.8 90.7 226.9C90.8 227.0 90.9 227.2 90.9 227.4C91.0 227.6 91.0 227.8 91.1 228.0C91.1 228.3 91.0 228.5 91.0 228.7Z" fill="#fff000" fill-opacity="1"/>
<path d="M123.0 243.7C123.4 244.9 123.6 246.4 123.7 247.6C123.7 248.9 123.7 250.1 123.5 251.2C123.2 252.2 122.9 253.1 122.4 253.8C121.9 254.4 121.3 254.9 120.7 255.0C120.1 255.2 119.3 255.1 118.6 254.8C117.8 254.5 117.0 253.8 116.4 253.1C115.7 252.3 115.0 251.2 114.4 250.1C113.8 249.0 113.3 247.6 113.0 246.3C112.6 245.1 112.4 243.6 112.3 242.4C112.3 241.1 112.3 239.9 112.5 238.8C112.8 237.8 113.1 236.9 113.6 236.2C114.1 235.6 114.7 235.1 115.3 235.0C115.9 234.8 116.7 234.9 117.4 235.2C118.2 235.5 119.0 236.2 119.6 236.9C120.3 237.7 121.0 238.8 121.6 239.9C122.2 241.0 122.7 242.4 123.0 243.7Z" fill="#3a58e8" fill-opacity="0.3"/><path d="M121.3 244.1C121.5 245.0 121.7 245.9 121.7 246.7C121.8 247.5 121.7 248.4 121.6 249.0C121.4 249.7 121.2 250.3 120.9 250.7C120.6 251.2 120.2 251.5 119.8 251.6C119.3 251.7 118.8 251.6 118.4 251.4C117.9 251.2 117.4 250.8 116.9 250.3C116.5 249.8 116.0 249.1 115.6 248.3C115.3 247.6 114.9 246.7 114.7 245.9C114.5 245.0 114.3 244.1 114.3 243.3C114.2 242.5 114.3 241.6 114.4 241.0C114.6 240.3 114.8 239.7 115.1 239.3C115.4 238.8 115.8 238.5 116.2 238.4C116.7 238.3 117.2 238.4 117.6 238.6C118.1 238.8 118.6 239.2 119.1 239.7C119.5 240.2 120.0 240.9 120.4 241.7C120.7 242.4 121.1 243.3 121.3 244.1Z" fill="#3060f4" fill-opacity="0.4"/><path d="M119.7 244.5C119.9 245.0 119.9 245.5 120.0 245.9C120.0 246.3 120.0 246.8 119.9 247.1C119.8 247.5 119.7 247.8 119.5 248.0C119.4 248.3 119.2 248.4 118.9 248.5C118.7 248.5 118.4 248.5 118.2 248.4C117.9 248.3 117.7 248.1 117.4 247.8C117.2 247.5 116.9 247.1 116.8 246.8C116.6 246.4 116.4 245.9 116.3 245.5C116.1 245.0 116.1 244.5 116.0 244.1C116.0 243.7 116.0 243.2 116.1 242.9C116.2 242.5 116.3 242.2 116.5 242.0C116.6 241.7 116.8 241.6 117.1 241.5C117.3 241.5 117.6 241.5 117.8 241.6C118.1 241.7 118.3 241.9 118.6 242.2C118.8 242.5 119.1 242.9 119.2 243.2C119.4 243.6 119.6 244.1 119.7 244.5Z" fill="#2a6cff" fill-opacity="0.5"/>
</g>

</g>
<path d="M67.4 228.0H74.7V225.8L83.2 230.0L74.7 234.2V232.0H67.4Z" fill="#f60a0a"/>
<g>
<path d="M185.0 206.0C187.3 205.8 189.5 209.3 192.0 210.5C194.5 211.7 196.7 212.2 200.0 213.0C203.3 213.8 208.2 213.8 212.0 215.0C215.8 216.2 219.7 217.8 223.0 220.5C226.3 223.2 229.5 227.1 232.0 231.0C234.5 234.9 236.8 240.5 238.0 244.0C239.2 247.5 239.9 249.3 239.0 252.0C238.1 254.7 235.7 258.0 232.5 260.0C229.3 262.0 224.6 263.2 220.0 264.0C215.4 264.8 210.0 265.1 205.0 265.0C200.0 264.9 194.4 264.4 190.0 263.5C185.6 262.6 181.6 261.6 178.5 259.5C175.4 257.4 173.0 254.6 171.5 251.0C170.0 247.4 169.5 242.5 169.5 238.0C169.5 233.5 170.1 228.3 171.5 224.0C172.9 219.7 175.8 215.0 178.0 212.0C180.2 209.0 182.7 206.2 185.0 206.0Z" fill="#4040dc" filter="url(#rough)"/>
<rect x="163" y="200" width="82" height="70" fill="#fff" opacity="0.1" filter="url(#mottle)"/>
<g filter="url(#hotf)">
<path d="M189.1 229.0C189.1 230.6 188.8 232.4 188.4 233.9C187.9 235.5 187.2 237.0 186.4 238.1C185.6 239.3 184.5 240.3 183.5 240.9C182.4 241.5 181.2 241.9 180.0 241.9C178.8 241.9 177.6 241.5 176.5 240.9C175.5 240.3 174.4 239.3 173.6 238.1C172.8 237.0 172.1 235.5 171.6 233.9C171.2 232.4 170.9 230.6 170.9 229.0C170.9 227.4 171.2 225.6 171.6 224.1C172.1 222.5 172.8 221.0 173.6 219.9C174.4 218.7 175.5 217.7 176.5 217.1C177.6 216.5 178.8 216.1 180.0 216.1C181.2 216.1 182.4 216.5 183.5 217.1C184.5 217.7 185.6 218.7 186.4 219.9C187.2 221.0 187.9 222.5 188.4 224.1C188.8 225.6 189.1 227.4 189.1 229.0Z" fill="#3458ea" fill-opacity="0.55"/><path d="M188.0 229.0C188.0 230.5 187.8 232.0 187.4 233.4C187.0 234.7 186.4 236.1 185.7 237.1C185.0 238.1 184.0 239.0 183.1 239.6C182.1 240.1 181.0 240.4 180.0 240.4C179.0 240.4 177.9 240.1 176.9 239.6C176.0 239.0 175.0 238.1 174.3 237.1C173.6 236.1 173.0 234.7 172.6 233.4C172.2 232.0 172.0 230.5 172.0 229.0C172.0 227.5 172.2 226.0 172.6 224.6C173.0 223.3 173.6 221.9 174.3 220.9C175.0 219.9 176.0 219.0 176.9 218.4C177.9 217.9 179.0 217.6 180.0 217.6C181.0 217.6 182.1 217.9 183.1 218.4C184.0 219.0 185.0 219.9 185.7 220.9C186.4 221.9 187.0 223.3 187.4 224.6C187.8 226.0 188.0 227.5 188.0 229.0Z" fill="#2488ff" fill-opacity="1"/><path d="M187.0 229.0C187.0 230.3 186.8 231.6 186.5 232.8C186.1 234.0 185.6 235.2 185.0 236.1C184.3 237.0 183.5 237.7 182.7 238.2C181.9 238.7 180.9 239.0 180.0 239.0C179.1 239.0 178.1 238.7 177.3 238.2C176.5 237.7 175.7 237.0 175.0 236.1C174.4 235.2 173.9 234.0 173.5 232.8C173.2 231.6 173.0 230.3 173.0 229.0C173.0 227.7 173.2 226.4 173.5 225.2C173.9 224.0 174.4 222.8 175.0 221.9C175.7 221.0 176.5 220.3 177.3 219.8C178.1 219.3 179.1 219.0 180.0 219.0C180.9 219.0 181.9 219.3 182.7 219.8C183.5 220.3 184.3 221.0 185.0 221.9C185.6 222.8 186.1 224.0 186.5 225.2C186.8 226.4 187.0 227.7 187.0 229.0Z" fill="#00e0ff" fill-opacity="1"/><path d="M185.8 229.0C185.8 230.1 185.7 231.2 185.4 232.2C185.1 233.2 184.7 234.1 184.1 234.9C183.6 235.6 182.9 236.3 182.2 236.7C181.5 237.1 180.7 237.3 180.0 237.3C179.3 237.3 178.5 237.1 177.8 236.7C177.1 236.3 176.4 235.6 175.9 234.9C175.3 234.1 174.9 233.2 174.6 232.2C174.3 231.2 174.2 230.1 174.2 229.0C174.2 227.9 174.3 226.8 174.6 225.8C174.9 224.8 175.3 223.9 175.9 223.1C176.4 222.4 177.1 221.7 177.8 221.3C178.5 220.9 179.3 220.7 180.0 220.7C180.7 220.7 181.5 220.9 182.2 221.3C182.9 221.7 183.6 222.4 184.1 223.1C184.7 223.9 185.1 224.8 185.4 225.8C185.7 226.8 185.8 227.9 185.8 229.0Z" fill="#30f0b0" fill-opacity="1"/><path d="M184.7 229.0C184.7 229.8 184.5 230.8 184.3 231.5C184.1 232.3 183.7 233.1 183.3 233.7C182.9 234.3 182.3 234.8 181.8 235.1C181.2 235.5 180.6 235.7 180.0 235.7C179.4 235.7 178.8 235.5 178.2 235.1C177.7 234.8 177.1 234.3 176.7 233.7C176.3 233.1 175.9 232.3 175.7 231.5C175.5 230.8 175.3 229.8 175.3 229.0C175.3 228.2 175.5 227.2 175.7 226.5C175.9 225.7 176.3 224.9 176.7 224.3C177.1 223.7 177.7 223.2 178.2 222.9C178.8 222.5 179.4 222.3 180.0 222.3C180.6 222.3 181.2 222.5 181.8 222.9C182.3 223.2 182.9 223.7 183.3 224.3C183.7 224.9 184.1 225.7 184.3 226.5C184.5 227.2 184.7 228.2 184.7 229.0Z" fill="#58f050" fill-opacity="1"/><path d="M182.2 229.0C182.2 229.4 182.1 229.8 182.0 230.2C181.9 230.6 181.7 230.9 181.5 231.2C181.4 231.5 181.1 231.7 180.8 231.9C180.6 232.0 180.3 232.1 180.0 232.1C179.7 232.1 179.4 232.0 179.2 231.9C178.9 231.7 178.6 231.5 178.5 231.2C178.3 230.9 178.1 230.6 178.0 230.2C177.9 229.8 177.8 229.4 177.8 229.0C177.8 228.6 177.9 228.2 178.0 227.8C178.1 227.4 178.3 227.1 178.5 226.8C178.6 226.5 178.9 226.3 179.2 226.1C179.4 226.0 179.7 225.9 180.0 225.9C180.3 225.9 180.6 226.0 180.8 226.1C181.1 226.3 181.4 226.5 181.5 226.8C181.7 227.1 181.9 227.4 182.0 227.8C182.1 228.2 182.2 228.6 182.2 229.0Z" fill="#98f024" fill-opacity="1"/>
<path d="M213.6 242.0C213.6 242.6 213.4 243.2 213.2 243.7C213.0 244.3 212.6 244.8 212.2 245.2C211.8 245.6 211.3 246.0 210.7 246.2C210.2 246.4 209.6 246.6 209.0 246.6C208.4 246.6 207.8 246.4 207.3 246.2C206.7 246.0 206.2 245.6 205.8 245.2C205.4 244.8 205.0 244.3 204.8 243.7C204.6 243.2 204.4 242.6 204.4 242.0C204.4 241.4 204.6 240.8 204.8 240.3C205.0 239.7 205.4 239.2 205.8 238.8C206.2 238.4 206.7 238.0 207.3 237.8C207.8 237.6 208.4 237.4 209.0 237.4C209.6 237.4 210.2 237.6 210.7 237.8C211.3 238.0 211.8 238.4 212.2 238.8C212.6 239.2 213.0 239.7 213.2 240.3C213.4 240.8 213.6 241.4 213.6 242.0Z" fill="#3a58e8" fill-opacity="0.3"/><path d="M212.0 242.0C212.0 242.4 211.9 242.8 211.7 243.1C211.6 243.5 211.4 243.8 211.1 244.1C210.8 244.4 210.5 244.6 210.1 244.7C209.8 244.9 209.4 245.0 209.0 245.0C208.6 245.0 208.2 244.9 207.9 244.7C207.5 244.6 207.2 244.4 206.9 244.1C206.6 243.8 206.4 243.5 206.3 243.1C206.1 242.8 206.0 242.4 206.0 242.0C206.0 241.6 206.1 241.2 206.3 240.9C206.4 240.5 206.6 240.2 206.9 239.9C207.2 239.6 207.5 239.4 207.9 239.3C208.2 239.1 208.6 239.0 209.0 239.0C209.4 239.0 209.8 239.1 210.1 239.3C210.5 239.4 210.8 239.6 211.1 239.9C211.4 240.2 211.6 240.5 211.7 240.9C211.9 241.2 212.0 241.6 212.0 242.0Z" fill="#3060f4" fill-opacity="0.4"/><path d="M210.6 242.0C210.6 242.2 210.5 242.4 210.5 242.6C210.4 242.8 210.3 243.0 210.1 243.1C210.0 243.3 209.8 243.4 209.6 243.5C209.4 243.5 209.2 243.6 209.0 243.6C208.8 243.6 208.6 243.5 208.4 243.5C208.2 243.4 208.0 243.3 207.9 243.1C207.7 243.0 207.6 242.8 207.5 242.6C207.5 242.4 207.4 242.2 207.4 242.0C207.4 241.8 207.5 241.6 207.5 241.4C207.6 241.2 207.7 241.0 207.9 240.9C208.0 240.7 208.2 240.6 208.4 240.5C208.6 240.5 208.8 240.4 209.0 240.4C209.2 240.4 209.4 240.5 209.6 240.5C209.8 240.6 210.0 240.7 210.1 240.9C210.3 241.0 210.4 241.2 210.5 241.4C210.5 241.6 210.6 241.8 210.6 242.0Z" fill="#2a6cff" fill-opacity="0.5"/>
</g>

</g>
<path d="M155.7 226.0H163.5V223.8L172.0 228.0L163.5 232.2V230.0H155.7Z" fill="#f60a0a"/>
<clipPath id="cp3"><rect x="305" y="70" width="75" height="111.19999999999999"/></clipPath>
<g clip-path="url(#cp3)">
<path d="M326.0 75.0C327.8 73.0 331.5 74.1 335.0 74.0C338.5 73.9 342.8 74.4 347.0 74.5C351.2 74.6 357.6 72.9 360.0 74.5C362.4 76.1 361.3 80.4 361.5 84.0C361.7 87.6 361.0 92.0 361.0 96.0C361.0 100.0 361.3 104.0 361.5 108.0C361.7 112.0 361.7 115.5 362.0 120.0C362.3 124.5 362.9 130.2 363.5 135.0C364.1 139.8 364.9 144.8 365.5 149.0C366.1 153.2 366.5 154.7 367.0 160.0C367.5 165.3 368.2 175.7 368.5 181.0C368.8 186.3 376.9 190.2 369.0 192.0C361.1 193.8 329.0 193.8 321.0 192.0C313.0 190.2 321.1 185.0 321.0 181.0C320.9 177.0 320.6 172.8 320.5 168.0C320.4 163.2 320.8 156.2 320.5 152.0C320.2 147.8 319.7 145.8 319.0 143.0C318.3 140.2 316.9 137.8 316.5 135.0C316.1 132.2 316.0 129.0 316.3 126.0C316.6 123.0 317.6 120.0 318.5 117.0C319.4 114.0 321.2 111.2 322.0 108.0C322.8 104.8 322.6 101.7 323.0 98.0C323.4 94.3 324.0 89.8 324.5 86.0C325.0 82.2 324.2 77.0 326.0 75.0Z" fill="#4040dc" filter="url(#rough)"/>
<rect x="305" y="70" width="75" height="114" fill="url(#vsmooth)" opacity="0.5"/>
<rect x="305" y="70" width="75" height="114" fill="url(#vfade)" opacity="0.5" filter="url(#mottle)"/>
<ellipse cx="343" cy="85" rx="24" ry="19" fill="url(#wfade)" opacity="0.7" filter="url(#speckC)"/>
<ellipse cx="345" cy="80" rx="18" ry="9" fill="url(#wfade)" opacity="0.7" filter="url(#speckB)"/>
<g filter="url(#hotf)">
<path d="M332.0 128.7C331.9 130.8 331.5 133.1 331.1 135.0C330.6 137.0 329.9 138.9 329.1 140.3C328.3 141.8 327.4 143.0 326.4 143.8C325.5 144.5 324.4 144.9 323.4 144.9C322.5 144.8 321.4 144.3 320.6 143.5C319.7 142.6 318.9 141.3 318.3 139.7C317.6 138.2 317.1 136.3 316.9 134.3C316.6 132.3 316.5 130.0 316.6 127.9C316.7 125.8 317.1 123.5 317.5 121.6C318.0 119.6 318.7 117.7 319.5 116.3C320.3 114.8 321.2 113.6 322.2 112.8C323.1 112.1 324.2 111.7 325.2 111.7C326.1 111.8 327.2 112.3 328.0 113.1C328.9 114.0 329.7 115.3 330.3 116.9C331.0 118.4 331.5 120.3 331.7 122.3C332.0 124.3 332.1 126.6 332.0 128.7Z" fill="#3458ea" fill-opacity="0.55"/><path d="M331.1 128.7C331.0 130.5 330.7 132.5 330.3 134.3C329.9 136.0 329.3 137.7 328.6 139.0C327.9 140.3 327.0 141.4 326.2 142.0C325.4 142.7 324.4 143.1 323.5 143.0C322.7 143.0 321.7 142.5 321.0 141.8C320.2 141.0 319.5 139.8 318.9 138.5C318.4 137.1 318.0 135.4 317.7 133.6C317.5 131.9 317.4 129.8 317.5 127.9C317.6 126.1 317.9 124.1 318.3 122.3C318.7 120.6 319.3 118.9 320.0 117.6C320.7 116.3 321.6 115.2 322.4 114.6C323.2 113.9 324.2 113.5 325.1 113.6C325.9 113.6 326.9 114.1 327.6 114.8C328.4 115.6 329.1 116.8 329.7 118.1C330.2 119.5 330.6 121.2 330.9 123.0C331.1 124.7 331.2 126.8 331.1 128.7Z" fill="#2488ff" fill-opacity="1"/><path d="M330.2 128.6C330.2 130.3 329.9 132.0 329.5 133.5C329.2 135.0 328.6 136.5 328.0 137.6C327.4 138.7 326.7 139.7 326.0 140.3C325.2 140.9 324.4 141.2 323.6 141.1C322.9 141.1 322.1 140.7 321.4 140.0C320.7 139.4 320.1 138.4 319.6 137.2C319.1 136.0 318.8 134.5 318.6 132.9C318.3 131.4 318.3 129.6 318.4 128.0C318.4 126.3 318.7 124.6 319.1 123.1C319.4 121.6 320.0 120.1 320.6 119.0C321.2 117.9 321.9 116.9 322.6 116.3C323.4 115.7 324.2 115.4 325.0 115.5C325.7 115.5 326.5 115.9 327.2 116.6C327.9 117.2 328.5 118.2 329.0 119.4C329.5 120.6 329.8 122.1 330.0 123.7C330.3 125.2 330.3 127.0 330.2 128.6Z" fill="#00e0ff" fill-opacity="1"/><path d="M329.1 128.6C329.1 129.9 328.9 131.3 328.6 132.5C328.3 133.7 327.8 134.9 327.3 135.9C326.8 136.8 326.2 137.6 325.6 138.0C325.0 138.5 324.4 138.8 323.8 138.7C323.1 138.7 322.5 138.4 321.9 137.8C321.4 137.3 320.9 136.5 320.5 135.5C320.1 134.5 319.8 133.3 319.6 132.1C319.5 130.8 319.4 129.4 319.5 128.0C319.5 126.7 319.7 125.3 320.0 124.1C320.3 122.9 320.8 121.7 321.3 120.7C321.8 119.8 322.4 119.0 323.0 118.6C323.6 118.1 324.2 117.8 324.8 117.9C325.5 117.9 326.1 118.2 326.7 118.8C327.2 119.3 327.7 120.1 328.1 121.1C328.5 122.1 328.8 123.3 329.0 124.5C329.1 125.8 329.2 127.2 329.1 128.6Z" fill="#30f4a0" fill-opacity="1"/><path d="M327.9 128.5C327.8 129.5 327.7 130.5 327.5 131.4C327.2 132.3 326.9 133.2 326.6 133.9C326.2 134.6 325.7 135.2 325.3 135.5C324.9 135.9 324.4 136.1 323.9 136.1C323.4 136.0 323.0 135.8 322.5 135.4C322.1 135.0 321.8 134.4 321.5 133.7C321.2 132.9 321.0 132.0 320.8 131.1C320.7 130.2 320.7 129.1 320.7 128.1C320.8 127.1 320.9 126.1 321.1 125.2C321.4 124.3 321.7 123.4 322.0 122.7C322.4 122.0 322.9 121.4 323.3 121.1C323.7 120.7 324.2 120.5 324.7 120.5C325.2 120.6 325.6 120.8 326.1 121.2C326.5 121.6 326.8 122.2 327.1 122.9C327.4 123.7 327.6 124.6 327.8 125.5C327.9 126.4 327.9 127.5 327.9 128.5Z" fill="#80ff48" fill-opacity="1"/><path d="M326.5 128.4C326.5 129.0 326.4 129.7 326.3 130.3C326.1 130.8 325.9 131.4 325.7 131.8C325.5 132.2 325.2 132.6 324.9 132.8C324.6 133.0 324.3 133.1 324.0 133.1C323.8 133.1 323.5 133.0 323.2 132.7C323.0 132.5 322.7 132.1 322.5 131.6C322.4 131.2 322.2 130.6 322.1 130.0C322.1 129.5 322.0 128.8 322.1 128.2C322.1 127.6 322.2 126.9 322.3 126.3C322.5 125.8 322.7 125.2 322.9 124.8C323.1 124.4 323.4 124.0 323.7 123.8C324.0 123.6 324.3 123.5 324.6 123.5C324.8 123.5 325.1 123.6 325.4 123.9C325.6 124.1 325.9 124.5 326.1 125.0C326.2 125.4 326.4 126.0 326.5 126.6C326.5 127.1 326.6 127.8 326.5 128.4Z" fill="#d0ff18" fill-opacity="1"/><path d="M325.3 128.4C325.3 128.6 325.2 128.9 325.2 129.2C325.1 129.4 325.0 129.7 324.9 129.9C324.8 130.0 324.7 130.2 324.6 130.3C324.5 130.4 324.3 130.4 324.2 130.4C324.1 130.4 323.9 130.4 323.8 130.3C323.7 130.1 323.6 130.0 323.5 129.8C323.4 129.6 323.4 129.3 323.3 129.1C323.3 128.8 323.3 128.5 323.3 128.2C323.3 128.0 323.4 127.7 323.4 127.4C323.5 127.2 323.6 126.9 323.7 126.7C323.8 126.6 323.9 126.4 324.0 126.3C324.1 126.2 324.3 126.2 324.4 126.2C324.5 126.2 324.7 126.2 324.8 126.3C324.9 126.5 325.0 126.6 325.1 126.8C325.2 127.0 325.2 127.3 325.3 127.5C325.3 127.8 325.3 128.1 325.3 128.4Z" fill="#fff000" fill-opacity="1"/>
<path d="M344.5 170.9C344.0 172.9 343.1 175.1 342.2 176.8C341.2 178.6 340.0 180.2 338.8 181.4C337.5 182.6 336.1 183.6 334.7 184.1C333.4 184.6 331.9 184.7 330.6 184.3C329.4 184.0 328.1 183.3 327.2 182.2C326.2 181.1 325.3 179.6 324.8 178.0C324.3 176.3 324.0 174.3 324.0 172.3C323.9 170.3 324.2 168.0 324.7 166.0C325.2 164.0 326.0 161.9 327.0 160.1C327.9 158.4 329.2 156.7 330.4 155.5C331.7 154.3 333.1 153.3 334.5 152.8C335.8 152.4 337.3 152.3 338.6 152.6C339.8 152.9 341.1 153.7 342.0 154.7C343.0 155.8 343.8 157.3 344.4 159.0C344.9 160.6 345.2 162.7 345.2 164.7C345.2 166.7 345.0 168.9 344.5 170.9Z" fill="#3458ea" fill-opacity="0.55"/><path d="M343.2 170.8C342.8 172.6 342.1 174.5 341.2 176.1C340.4 177.6 339.3 179.1 338.2 180.2C337.1 181.2 335.8 182.1 334.6 182.5C333.4 182.9 332.1 183.0 331.0 182.7C329.9 182.5 328.7 181.8 327.9 180.8C327.0 179.9 326.3 178.5 325.8 177.1C325.3 175.6 325.1 173.8 325.0 172.0C325.0 170.3 325.3 168.3 325.7 166.5C326.2 164.7 326.9 162.8 327.7 161.3C328.6 159.7 329.7 158.2 330.8 157.2C331.9 156.1 333.2 155.2 334.4 154.8C335.6 154.4 336.9 154.3 338.0 154.6C339.1 154.8 340.2 155.5 341.1 156.5C341.9 157.4 342.7 158.8 343.2 160.2C343.6 161.7 343.9 163.5 343.9 165.3C343.9 167.1 343.7 169.0 343.2 170.8Z" fill="#2488ff" fill-opacity="1"/><path d="M342.0 170.8C341.6 172.3 341.0 174.0 340.3 175.3C339.5 176.7 338.6 178.0 337.6 178.9C336.6 179.8 335.5 180.6 334.5 180.9C333.4 181.3 332.3 181.4 331.3 181.2C330.3 180.9 329.4 180.3 328.6 179.5C327.9 178.7 327.2 177.5 326.8 176.2C326.4 174.9 326.1 173.3 326.1 171.8C326.1 170.3 326.3 168.5 326.7 167.0C327.1 165.4 327.8 163.7 328.5 162.4C329.2 161.0 330.2 159.8 331.1 158.8C332.1 157.9 333.2 157.1 334.3 156.8C335.3 156.4 336.5 156.3 337.4 156.6C338.4 156.8 339.4 157.4 340.1 158.2C340.9 159.0 341.5 160.2 341.9 161.5C342.3 162.8 342.6 164.4 342.6 165.9C342.6 167.5 342.4 169.2 342.0 170.8Z" fill="#00e0ff" fill-opacity="1"/><path d="M340.8 170.7C340.4 172.0 339.9 173.4 339.3 174.6C338.7 175.7 337.8 176.8 337.0 177.6C336.2 178.4 335.2 179.1 334.3 179.4C333.4 179.7 332.5 179.8 331.6 179.6C330.8 179.3 330.0 178.8 329.3 178.1C328.7 177.4 328.1 176.4 327.8 175.3C327.4 174.2 327.2 172.9 327.2 171.6C327.2 170.3 327.4 168.8 327.7 167.4C328.1 166.1 328.6 164.7 329.2 163.5C329.9 162.4 330.7 161.3 331.5 160.5C332.3 159.7 333.3 159.0 334.2 158.7C335.1 158.4 336.0 158.3 336.9 158.5C337.7 158.8 338.5 159.3 339.2 160.0C339.8 160.7 340.4 161.7 340.7 162.8C341.1 163.9 341.3 165.2 341.3 166.5C341.3 167.9 341.1 169.3 340.8 170.7Z" fill="#40f890" fill-opacity="1"/><path d="M339.6 170.6C339.3 171.7 338.8 172.9 338.3 173.8C337.8 174.8 337.1 175.7 336.4 176.4C335.8 177.0 335.0 177.5 334.2 177.8C333.5 178.1 332.7 178.1 332.0 178.0C331.3 177.8 330.6 177.4 330.1 176.8C329.5 176.2 329.1 175.4 328.8 174.5C328.5 173.5 328.3 172.4 328.3 171.3C328.3 170.2 328.5 169.0 328.7 167.9C329.0 166.8 329.5 165.6 330.0 164.7C330.5 163.7 331.2 162.8 331.9 162.1C332.5 161.5 333.3 161.0 334.1 160.7C334.8 160.4 335.6 160.4 336.3 160.5C337.0 160.7 337.7 161.1 338.2 161.7C338.8 162.3 339.2 163.1 339.5 164.0C339.8 165.0 340.0 166.1 340.0 167.2C340.0 168.3 339.8 169.5 339.6 170.6Z" fill="#a0ff30" fill-opacity="1"/><path d="M338.2 170.5C337.9 171.4 337.6 172.2 337.2 173.0C336.8 173.7 336.3 174.4 335.8 174.9C335.2 175.4 334.6 175.8 334.1 176.0C333.5 176.2 332.9 176.3 332.4 176.1C331.8 176.0 331.3 175.7 330.9 175.2C330.5 174.8 330.1 174.1 329.9 173.5C329.7 172.8 329.6 171.9 329.6 171.1C329.6 170.2 329.7 169.3 329.9 168.4C330.1 167.6 330.4 166.7 330.8 166.0C331.2 165.2 331.7 164.5 332.3 164.0C332.8 163.5 333.4 163.1 334.0 162.9C334.5 162.7 335.1 162.7 335.7 162.8C336.2 162.9 336.7 163.3 337.1 163.7C337.5 164.2 337.9 164.8 338.1 165.5C338.3 166.2 338.5 167.0 338.5 167.9C338.5 168.7 338.4 169.7 338.2 170.5Z" fill="#f0f000" fill-opacity="1"/><path d="M336.5 170.4C336.4 170.9 336.1 171.5 335.9 172.0C335.6 172.4 335.3 172.9 335.0 173.2C334.6 173.5 334.3 173.8 333.9 173.9C333.5 174.0 333.1 174.0 332.8 174.0C332.5 173.9 332.1 173.7 331.9 173.4C331.6 173.1 331.4 172.7 331.3 172.3C331.1 171.8 331.0 171.3 331.0 170.8C331.0 170.2 331.1 169.6 331.2 169.1C331.4 168.5 331.6 168.0 331.8 167.5C332.1 167.0 332.4 166.6 332.8 166.3C333.1 166.0 333.5 165.7 333.8 165.6C334.2 165.5 334.6 165.4 334.9 165.5C335.3 165.6 335.6 165.8 335.8 166.1C336.1 166.4 336.3 166.8 336.5 167.2C336.6 167.7 336.7 168.2 336.7 168.7C336.7 169.3 336.6 169.9 336.5 170.4Z" fill="#ffb000" fill-opacity="1"/><path d="M335.1 170.3C335.0 170.6 334.9 170.9 334.8 171.1C334.6 171.3 334.5 171.6 334.3 171.7C334.1 171.9 333.9 172.0 333.8 172.1C333.6 172.2 333.4 172.2 333.2 172.1C333.0 172.1 332.8 172.0 332.7 171.8C332.6 171.7 332.5 171.5 332.4 171.3C332.3 171.0 332.3 170.8 332.3 170.5C332.3 170.2 332.3 169.9 332.4 169.6C332.5 169.3 332.6 169.1 332.7 168.8C332.8 168.6 333.0 168.3 333.2 168.2C333.3 168.0 333.5 167.9 333.7 167.8C333.9 167.8 334.1 167.7 334.3 167.8C334.5 167.8 334.6 167.9 334.8 168.1C334.9 168.2 335.0 168.4 335.1 168.7C335.1 168.9 335.2 169.2 335.2 169.4C335.2 169.7 335.2 170.0 335.1 170.3Z" fill="#ff6000" fill-opacity="1"/>
<path d="M369.8 160.0C370.4 162.1 370.6 164.5 370.5 166.6C370.4 168.7 369.9 170.9 369.1 172.7C368.4 174.5 367.2 176.2 365.9 177.4C364.6 178.7 362.9 179.6 361.3 180.0C359.6 180.5 357.7 180.5 356.0 180.1C354.3 179.7 352.4 178.8 350.8 177.6C349.3 176.5 347.8 174.8 346.6 173.0C345.4 171.2 344.5 169.1 343.9 167.0C343.4 164.9 343.1 162.5 343.2 160.4C343.3 158.3 343.8 156.1 344.6 154.3C345.3 152.5 346.5 150.8 347.8 149.6C349.1 148.3 350.8 147.4 352.4 147.0C354.1 146.5 356.0 146.5 357.7 146.9C359.5 147.3 361.3 148.2 362.9 149.4C364.4 150.5 366.0 152.2 367.1 154.0C368.3 155.7 369.2 157.9 369.8 160.0Z" fill="#3458ea" fill-opacity="0.55"/><path d="M368.4 160.4C368.9 162.2 369.1 164.3 369.0 166.2C368.9 168.1 368.5 170.0 367.8 171.6C367.2 173.2 366.1 174.7 365.0 175.8C363.8 176.9 362.3 177.7 360.9 178.1C359.4 178.5 357.7 178.5 356.2 178.2C354.6 177.8 353.0 177.0 351.6 176.0C350.2 174.9 348.9 173.5 347.8 171.9C346.8 170.3 346.0 168.4 345.5 166.5C345.0 164.6 344.7 162.5 344.8 160.7C344.9 158.8 345.4 156.8 346.0 155.2C346.7 153.6 347.8 152.1 348.9 151.1C350.1 150.0 351.5 149.2 353.0 148.8C354.5 148.4 356.2 148.4 357.7 148.7C359.2 149.1 360.9 149.9 362.3 150.9C363.7 151.9 365.0 153.4 366.0 155.0C367.1 156.6 367.9 158.5 368.4 160.4Z" fill="#2488ff" fill-opacity="1"/><path d="M367.0 160.7C367.5 162.3 367.7 164.2 367.6 165.8C367.5 167.4 367.1 169.1 366.5 170.5C365.9 171.9 365.0 173.2 364.0 174.2C363.0 175.1 361.7 175.8 360.5 176.2C359.2 176.5 357.7 176.5 356.4 176.2C355.0 175.9 353.6 175.2 352.4 174.3C351.2 173.4 350.0 172.1 349.1 170.8C348.2 169.4 347.4 167.7 347.0 166.1C346.6 164.4 346.4 162.6 346.5 161.0C346.5 159.3 346.9 157.6 347.5 156.2C348.1 154.8 349.0 153.5 350.0 152.6C351.0 151.6 352.3 150.9 353.6 150.6C354.9 150.2 356.3 150.2 357.7 150.5C359.0 150.8 360.5 151.5 361.7 152.4C362.9 153.4 364.1 154.6 365.0 156.0C365.9 157.4 366.6 159.1 367.0 160.7Z" fill="#00e0ff" fill-opacity="1"/><path d="M365.9 161.0C366.2 162.4 366.4 164.0 366.3 165.5C366.3 166.9 365.9 168.4 365.4 169.6C364.9 170.8 364.1 172.0 363.2 172.8C362.3 173.6 361.2 174.2 360.1 174.5C359.0 174.8 357.7 174.8 356.5 174.6C355.3 174.3 354.1 173.7 353.0 172.9C352.0 172.1 350.9 171.0 350.1 169.8C349.4 168.6 348.7 167.1 348.3 165.7C348.0 164.3 347.8 162.7 347.9 161.2C347.9 159.8 348.3 158.3 348.8 157.1C349.3 155.9 350.1 154.7 351.0 153.9C351.9 153.1 353.0 152.4 354.1 152.1C355.2 151.8 356.5 151.8 357.7 152.1C358.9 152.4 360.1 153.0 361.2 153.8C362.2 154.6 363.3 155.7 364.0 156.9C364.8 158.1 365.5 159.6 365.9 161.0Z" fill="#40f890" fill-opacity="1"/><path d="M364.7 161.3C365.0 162.5 365.2 163.9 365.1 165.1C365.0 166.3 364.7 167.6 364.3 168.7C363.9 169.7 363.2 170.7 362.4 171.4C361.7 172.1 360.7 172.6 359.7 172.9C358.8 173.1 357.7 173.2 356.7 172.9C355.7 172.7 354.6 172.2 353.7 171.5C352.8 170.8 351.9 169.9 351.2 168.8C350.5 167.8 350.0 166.5 349.7 165.3C349.3 164.1 349.2 162.7 349.2 161.5C349.3 160.2 349.6 159.0 350.0 157.9C350.5 156.9 351.2 155.9 351.9 155.2C352.7 154.5 353.6 153.9 354.6 153.7C355.6 153.4 356.7 153.4 357.7 153.7C358.7 153.9 359.8 154.4 360.7 155.1C361.6 155.8 362.5 156.7 363.1 157.8C363.8 158.8 364.4 160.1 364.7 161.3Z" fill="#a0ff30" fill-opacity="1"/><path d="M363.3 161.6C363.6 162.6 363.7 163.7 363.6 164.7C363.6 165.7 363.4 166.7 363.0 167.6C362.6 168.4 362.1 169.2 361.5 169.8C360.9 170.3 360.1 170.8 359.3 171.0C358.6 171.2 357.7 171.2 356.9 171.0C356.0 170.8 355.2 170.4 354.4 169.8C353.7 169.3 353.0 168.5 352.5 167.7C351.9 166.9 351.5 165.8 351.2 164.9C350.9 163.9 350.8 162.8 350.9 161.8C350.9 160.8 351.1 159.8 351.5 158.9C351.9 158.1 352.4 157.3 353.0 156.7C353.6 156.1 354.4 155.7 355.2 155.5C356.0 155.3 356.8 155.3 357.7 155.5C358.5 155.7 359.3 156.1 360.1 156.6C360.8 157.2 361.5 157.9 362.0 158.8C362.6 159.6 363.0 160.6 363.3 161.6Z" fill="#f4f000" fill-opacity="1"/><path d="M361.9 161.9C362.1 162.7 362.2 163.5 362.2 164.3C362.1 165.0 362.0 165.8 361.7 166.5C361.4 167.1 361.0 167.7 360.5 168.1C360.1 168.6 359.5 168.9 358.9 169.0C358.3 169.2 357.6 169.2 357.0 169.1C356.4 168.9 355.8 168.6 355.2 168.2C354.6 167.8 354.1 167.2 353.7 166.6C353.3 165.9 352.9 165.2 352.7 164.4C352.5 163.7 352.5 162.8 352.5 162.1C352.5 161.3 352.7 160.5 353.0 159.9C353.3 159.3 353.7 158.7 354.1 158.2C354.6 157.8 355.2 157.5 355.8 157.3C356.3 157.2 357.0 157.1 357.6 157.3C358.3 157.4 358.9 157.7 359.5 158.2C360.0 158.6 360.6 159.2 361.0 159.8C361.4 160.4 361.7 161.2 361.9 161.9Z" fill="#ffa000" fill-opacity="1"/><path d="M360.5 162.3C360.7 162.8 360.7 163.4 360.7 163.9C360.7 164.4 360.6 164.9 360.4 165.4C360.2 165.8 359.9 166.2 359.6 166.5C359.3 166.8 358.9 167.0 358.5 167.1C358.1 167.2 357.6 167.2 357.2 167.1C356.8 167.0 356.3 166.8 356.0 166.5C355.6 166.3 355.2 165.9 354.9 165.4C354.7 165.0 354.4 164.5 354.3 164.0C354.2 163.4 354.1 162.9 354.1 162.4C354.1 161.9 354.3 161.3 354.4 160.9C354.6 160.4 354.9 160.0 355.2 159.7C355.5 159.5 355.9 159.2 356.3 159.1C356.7 159.0 357.2 159.0 357.6 159.1C358.0 159.2 358.5 159.4 358.9 159.7C359.3 160.0 359.6 160.4 359.9 160.8C360.2 161.2 360.4 161.8 360.5 162.3Z" fill="#ff2800" fill-opacity="1"/><path d="M358.9 162.7C358.9 162.9 359.0 163.2 359.0 163.4C358.9 163.6 358.9 163.8 358.8 164.0C358.7 164.2 358.6 164.4 358.5 164.5C358.3 164.6 358.2 164.7 358.0 164.8C357.8 164.8 357.6 164.8 357.4 164.8C357.2 164.8 357.1 164.7 356.9 164.5C356.7 164.4 356.6 164.2 356.4 164.1C356.3 163.9 356.2 163.6 356.2 163.4C356.1 163.2 356.1 162.9 356.1 162.7C356.1 162.5 356.2 162.3 356.2 162.1C356.3 161.9 356.4 161.7 356.6 161.6C356.7 161.5 356.9 161.4 357.1 161.3C357.2 161.3 357.4 161.3 357.6 161.3C357.8 161.4 358.0 161.4 358.2 161.6C358.3 161.7 358.5 161.9 358.6 162.1C358.7 162.2 358.8 162.5 358.9 162.7Z" fill="#ff1070" fill-opacity="1"/>
</g>
<g fill="#fff" filter="url(#rough)"><ellipse cx="344.5" cy="80" rx="8.5" ry="8" opacity="0.92"/><ellipse cx="340" cy="91" rx="3" ry="4" opacity="0.7"/><ellipse cx="351.5" cy="93" rx="2.5" ry="3.5" opacity="0.7"/><ellipse cx="339.5" cy="104" rx="2" ry="2.5" opacity="0.6"/><ellipse cx="350" cy="106" rx="2.2" ry="2.5" opacity="0.6"/></g>
</g>
<path d="M302.2 127.3H309.5V125.1L318.0 129.3L309.5 133.5V131.3H302.2Z" fill="#f60a0a"/>
<clipPath id="cp4"><rect x="395" y="70" width="90" height="111.69999999999999"/></clipPath>
<g clip-path="url(#cp4)">
<path d="M412.5 75.0C414.2 73.0 418.2 74.1 422.0 74.0C425.8 73.9 430.2 74.4 435.0 74.5C439.8 74.6 447.5 72.9 450.5 74.5C453.5 76.1 451.8 80.9 453.0 84.0C454.2 87.1 456.0 90.3 458.0 93.0C460.0 95.7 463.4 97.5 465.0 100.0C466.6 102.5 467.8 104.7 467.5 108.0C467.2 111.3 464.5 116.0 463.5 120.0C462.5 124.0 461.6 128.2 461.5 132.0C461.4 135.8 462.2 139.1 463.0 143.0C463.8 146.9 465.0 151.3 466.0 155.5C467.0 159.7 468.0 163.7 469.0 168.0C470.0 172.3 471.3 177.5 472.0 181.5C472.7 185.5 483.2 190.2 473.0 192.0C462.8 193.8 421.3 193.8 411.0 192.0C400.7 190.2 410.9 185.5 411.0 181.5C411.1 177.5 411.2 172.4 411.5 168.0C411.8 163.6 412.4 158.8 412.5 155.0C412.6 151.2 412.6 147.8 412.0 145.0C411.4 142.2 409.7 140.7 409.0 138.0C408.3 135.3 407.9 132.2 407.8 129.0C407.7 125.8 409.1 122.0 408.5 119.0C407.9 116.0 405.2 113.5 404.5 111.0C403.8 108.5 403.8 106.5 404.5 104.0C405.2 101.5 407.8 99.0 409.0 96.0C410.2 93.0 410.9 89.5 411.5 86.0C412.1 82.5 410.8 77.0 412.5 75.0Z" fill="#4040dc" filter="url(#rough)"/>
<rect x="395" y="70" width="90" height="114" fill="url(#vsmooth)" opacity="0.4"/>
<rect x="395" y="70" width="90" height="114" fill="url(#vfade)" opacity="0.4" filter="url(#mottle)"/>
<ellipse cx="436" cy="95" rx="28" ry="25" fill="url(#wfade)" opacity="0.8" filter="url(#speckB)"/>
<ellipse cx="438" cy="98" rx="28" ry="25" fill="url(#wfade)" opacity="0.35" filter="url(#speckC)"/>
<ellipse cx="448" cy="150" rx="18" ry="34" fill="url(#wfade)" opacity="0.28" filter="url(#speckC)"/>
<g filter="url(#hotf)">
<path d="M420.8 128.7C421.0 130.7 421.0 132.9 420.9 134.8C420.8 136.7 420.4 138.6 420.0 140.1C419.5 141.6 418.9 142.9 418.2 143.7C417.5 144.6 416.6 145.1 415.8 145.2C414.9 145.3 414.0 144.9 413.1 144.3C412.2 143.6 411.3 142.4 410.6 141.1C409.8 139.7 409.1 137.9 408.6 136.1C408.1 134.3 407.7 132.1 407.5 130.1C407.2 128.1 407.2 125.9 407.3 124.0C407.5 122.1 407.8 120.2 408.2 118.7C408.7 117.3 409.3 115.9 410.0 115.1C410.7 114.2 411.6 113.7 412.5 113.6C413.3 113.5 414.3 113.9 415.1 114.6C416.0 115.2 416.9 116.4 417.7 117.7C418.4 119.1 419.1 120.9 419.6 122.7C420.2 124.5 420.6 126.7 420.8 128.7Z" fill="#3458ea" fill-opacity="0.55"/><path d="M419.9 128.5C420.1 130.3 420.1 132.2 420.0 133.9C419.9 135.6 419.6 137.3 419.2 138.6C418.8 139.9 418.2 141.1 417.6 141.8C417.0 142.6 416.2 143.0 415.5 143.1C414.7 143.2 413.9 142.9 413.1 142.3C412.3 141.7 411.5 140.7 410.9 139.5C410.2 138.2 409.6 136.7 409.1 135.0C408.6 133.4 408.3 131.5 408.1 129.7C407.9 127.9 407.9 126.0 408.0 124.3C408.1 122.6 408.4 121.0 408.8 119.6C409.2 118.3 409.7 117.2 410.4 116.4C411.0 115.7 411.8 115.2 412.5 115.1C413.3 115.0 414.1 115.3 414.9 115.9C415.7 116.5 416.5 117.6 417.1 118.8C417.8 120.0 418.4 121.6 418.9 123.2C419.3 124.8 419.7 126.7 419.9 128.5Z" fill="#2488ff" fill-opacity="1"/><path d="M419.0 128.3C419.2 129.8 419.2 131.5 419.1 133.0C419.0 134.5 418.8 135.9 418.4 137.1C418.1 138.2 417.6 139.2 417.0 139.9C416.5 140.6 415.8 141.0 415.1 141.0C414.5 141.1 413.7 140.8 413.1 140.3C412.4 139.8 411.7 138.9 411.1 137.8C410.5 136.8 410.0 135.4 409.6 134.0C409.2 132.6 408.9 130.9 408.7 129.4C408.5 127.8 408.5 126.1 408.6 124.6C408.7 123.2 409.0 121.7 409.3 120.6C409.7 119.4 410.2 118.4 410.7 117.7C411.2 117.1 411.9 116.7 412.6 116.6C413.2 116.5 414.0 116.8 414.7 117.3C415.3 117.9 416.0 118.7 416.6 119.8C417.2 120.8 417.7 122.2 418.1 123.6C418.5 125.1 418.9 126.7 419.0 128.3Z" fill="#00e0ff" fill-opacity="1"/><path d="M417.9 128.0C418.0 129.3 418.1 130.6 418.0 131.8C417.9 133.0 417.7 134.2 417.4 135.1C417.1 136.1 416.7 136.9 416.3 137.4C415.8 138.0 415.3 138.3 414.7 138.4C414.2 138.4 413.6 138.2 413.1 137.8C412.5 137.3 411.9 136.6 411.5 135.8C411.0 134.9 410.6 133.8 410.2 132.6C409.9 131.5 409.6 130.1 409.5 128.9C409.4 127.6 409.4 126.2 409.4 125.0C409.5 123.9 409.7 122.7 410.0 121.7C410.3 120.8 410.7 120.0 411.1 119.4C411.6 118.9 412.1 118.6 412.7 118.5C413.2 118.5 413.8 118.7 414.3 119.1C414.9 119.5 415.5 120.2 415.9 121.1C416.4 122.0 416.8 123.1 417.2 124.2C417.5 125.4 417.8 126.7 417.9 128.0Z" fill="#30f4a0" fill-opacity="1"/><path d="M416.6 127.7C416.7 128.6 416.8 129.7 416.7 130.5C416.6 131.4 416.5 132.3 416.3 133.0C416.1 133.7 415.8 134.3 415.4 134.7C415.1 135.1 414.7 135.4 414.3 135.4C413.9 135.4 413.5 135.3 413.0 135.0C412.6 134.6 412.2 134.1 411.9 133.5C411.5 132.8 411.2 132.0 410.9 131.1C410.7 130.3 410.5 129.3 410.4 128.3C410.3 127.4 410.3 126.4 410.3 125.5C410.4 124.6 410.6 123.7 410.8 123.0C411.0 122.3 411.3 121.7 411.6 121.3C411.9 120.9 412.3 120.7 412.7 120.6C413.1 120.6 413.6 120.7 414.0 121.1C414.4 121.4 414.8 121.9 415.2 122.6C415.5 123.2 415.9 124.0 416.1 124.9C416.3 125.7 416.5 126.7 416.6 127.7Z" fill="#80ff48" fill-opacity="1"/><path d="M415.3 127.4C415.3 127.9 415.3 128.6 415.3 129.1C415.3 129.7 415.2 130.2 415.0 130.7C414.9 131.1 414.7 131.5 414.5 131.7C414.3 132.0 414.1 132.1 413.8 132.1C413.6 132.2 413.3 132.1 413.0 131.9C412.8 131.7 412.5 131.3 412.3 130.9C412.1 130.5 411.9 130.0 411.7 129.5C411.6 129.0 411.5 128.3 411.4 127.8C411.3 127.2 411.3 126.5 411.4 126.0C411.4 125.4 411.5 124.9 411.6 124.5C411.7 124.0 411.9 123.6 412.1 123.4C412.3 123.2 412.6 123.0 412.8 123.0C413.1 122.9 413.4 123.0 413.6 123.2C413.9 123.4 414.1 123.8 414.4 124.2C414.6 124.6 414.8 125.1 414.9 125.6C415.1 126.1 415.2 126.8 415.3 127.4Z" fill="#d0ff18" fill-opacity="1"/><path d="M414.0 127.0C414.0 127.3 414.0 127.6 414.0 127.8C414.0 128.1 414.0 128.3 413.9 128.5C413.8 128.7 413.8 128.9 413.7 129.0C413.6 129.1 413.5 129.2 413.4 129.2C413.2 129.2 413.1 129.1 413.0 129.1C412.9 129.0 412.8 128.8 412.7 128.6C412.6 128.5 412.5 128.2 412.4 128.0C412.4 127.8 412.3 127.5 412.3 127.2C412.3 127.0 412.3 126.7 412.3 126.4C412.3 126.2 412.3 126.0 412.4 125.8C412.4 125.6 412.5 125.4 412.6 125.3C412.7 125.2 412.8 125.1 412.9 125.1C413.0 125.1 413.2 125.1 413.3 125.2C413.4 125.3 413.5 125.5 413.6 125.6C413.7 125.8 413.8 126.0 413.9 126.3C413.9 126.5 414.0 126.8 414.0 127.0Z" fill="#fff000" fill-opacity="1"/>
<path d="M456.7 172.0C456.7 172.8 456.6 173.7 456.3 174.5C456.1 175.3 455.7 176.0 455.3 176.6C454.9 177.2 454.3 177.7 453.8 178.0C453.2 178.3 452.6 178.5 452.0 178.5C451.4 178.5 450.8 178.3 450.2 178.0C449.7 177.7 449.1 177.2 448.7 176.6C448.3 176.0 447.9 175.3 447.7 174.5C447.4 173.7 447.3 172.8 447.3 172.0C447.3 171.2 447.4 170.3 447.7 169.5C447.9 168.7 448.3 168.0 448.7 167.4C449.1 166.8 449.7 166.3 450.2 166.0C450.8 165.7 451.4 165.5 452.0 165.5C452.6 165.5 453.2 165.7 453.8 166.0C454.3 166.3 454.9 166.8 455.3 167.4C455.7 168.0 456.1 168.7 456.3 169.5C456.6 170.3 456.7 171.2 456.7 172.0Z" fill="#3458ea" fill-opacity="0.55"/><path d="M455.6 172.0C455.6 172.6 455.5 173.3 455.3 173.9C455.2 174.5 454.9 175.1 454.5 175.5C454.2 176.0 453.8 176.4 453.4 176.6C453.0 176.9 452.5 177.0 452.0 177.0C451.5 177.0 451.0 176.9 450.6 176.6C450.2 176.4 449.8 176.0 449.5 175.5C449.1 175.1 448.8 174.5 448.7 173.9C448.5 173.3 448.4 172.6 448.4 172.0C448.4 171.4 448.5 170.7 448.7 170.1C448.8 169.5 449.1 168.9 449.5 168.5C449.8 168.0 450.2 167.6 450.6 167.4C451.0 167.1 451.5 167.0 452.0 167.0C452.5 167.0 453.0 167.1 453.4 167.4C453.8 167.6 454.2 168.0 454.5 168.5C454.9 168.9 455.2 169.5 455.3 170.1C455.5 170.7 455.6 171.4 455.6 172.0Z" fill="#2488ff" fill-opacity="1"/><path d="M454.2 172.0C454.2 172.4 454.1 172.8 454.0 173.1C453.9 173.5 453.7 173.9 453.5 174.1C453.3 174.4 453.1 174.6 452.8 174.8C452.6 174.9 452.3 175.0 452.0 175.0C451.7 175.0 451.4 174.9 451.2 174.8C450.9 174.6 450.7 174.4 450.5 174.1C450.3 173.9 450.1 173.5 450.0 173.1C449.9 172.8 449.8 172.4 449.8 172.0C449.8 171.6 449.9 171.2 450.0 170.9C450.1 170.5 450.3 170.1 450.5 169.9C450.7 169.6 450.9 169.4 451.2 169.2C451.4 169.1 451.7 169.0 452.0 169.0C452.3 169.0 452.6 169.1 452.8 169.2C453.1 169.4 453.3 169.6 453.5 169.9C453.7 170.1 453.9 170.5 454.0 170.9C454.1 171.2 454.2 171.6 454.2 172.0Z" fill="#00dcff" fill-opacity="1"/>
<path d="M437.2 178.0C437.2 178.4 437.1 178.8 436.8 179.2C436.6 179.6 436.1 179.9 435.7 180.2C435.2 180.5 434.6 180.7 434.0 180.9C433.4 181.0 432.7 181.1 432.0 181.1C431.3 181.1 430.6 181.0 430.0 180.9C429.4 180.7 428.8 180.5 428.3 180.2C427.9 179.9 427.4 179.6 427.2 179.2C426.9 178.8 426.8 178.4 426.8 178.0C426.8 177.6 426.9 177.2 427.2 176.8C427.4 176.4 427.9 176.1 428.3 175.8C428.8 175.5 429.4 175.3 430.0 175.1C430.6 175.0 431.3 174.9 432.0 174.9C432.7 174.9 433.4 175.0 434.0 175.1C434.6 175.3 435.2 175.5 435.7 175.8C436.1 176.1 436.6 176.4 436.8 176.8C437.1 177.2 437.2 177.6 437.2 178.0Z" fill="#3458ea" fill-opacity="0.55"/><path d="M436.0 178.0C436.0 178.3 435.9 178.6 435.7 178.9C435.5 179.2 435.2 179.5 434.8 179.7C434.5 179.9 434.0 180.1 433.5 180.2C433.1 180.3 432.5 180.4 432.0 180.4C431.5 180.4 430.9 180.3 430.5 180.2C430.0 180.1 429.5 179.9 429.2 179.7C428.8 179.5 428.5 179.2 428.3 178.9C428.1 178.6 428.0 178.3 428.0 178.0C428.0 177.7 428.1 177.4 428.3 177.1C428.5 176.8 428.8 176.5 429.2 176.3C429.5 176.1 430.0 175.9 430.5 175.8C430.9 175.7 431.5 175.6 432.0 175.6C432.5 175.6 433.1 175.7 433.5 175.8C434.0 175.9 434.5 176.1 434.8 176.3C435.2 176.5 435.5 176.8 435.7 177.1C435.9 177.4 436.0 177.7 436.0 178.0Z" fill="#2488ff" fill-opacity="1"/><path d="M434.4 178.0C434.4 178.2 434.3 178.4 434.2 178.6C434.1 178.7 433.9 178.9 433.7 179.0C433.5 179.1 433.2 179.3 432.9 179.3C432.6 179.4 432.3 179.4 432.0 179.4C431.7 179.4 431.4 179.4 431.1 179.3C430.8 179.3 430.5 179.1 430.3 179.0C430.1 178.9 429.9 178.7 429.8 178.6C429.7 178.4 429.6 178.2 429.6 178.0C429.6 177.8 429.7 177.6 429.8 177.4C429.9 177.3 430.1 177.1 430.3 177.0C430.5 176.9 430.8 176.7 431.1 176.7C431.4 176.6 431.7 176.6 432.0 176.6C432.3 176.6 432.6 176.6 432.9 176.7C433.2 176.7 433.5 176.9 433.7 177.0C433.9 177.1 434.1 177.3 434.2 177.4C434.3 177.6 434.4 177.8 434.4 178.0Z" fill="#00dcff" fill-opacity="1"/>
<path d="M449.2 178.5C449.2 178.8 449.0 179.2 448.8 179.5C448.6 179.8 448.3 180.1 447.9 180.3C447.6 180.6 447.1 180.8 446.6 180.9C446.1 181.0 445.5 181.1 445.0 181.1C444.5 181.1 443.9 181.0 443.4 180.9C442.9 180.8 442.4 180.6 442.1 180.3C441.7 180.1 441.4 179.8 441.2 179.5C441.0 179.2 440.8 178.8 440.8 178.5C440.8 178.2 441.0 177.8 441.2 177.5C441.4 177.2 441.7 176.9 442.1 176.7C442.4 176.4 442.9 176.2 443.4 176.1C443.9 176.0 444.5 175.9 445.0 175.9C445.5 175.9 446.1 176.0 446.6 176.1C447.1 176.2 447.6 176.4 447.9 176.7C448.3 176.9 448.6 177.2 448.8 177.5C449.0 177.8 449.2 178.2 449.2 178.5Z" fill="#3458ea" fill-opacity="0.55"/><path d="M448.2 178.5C448.2 178.8 448.1 179.0 448.0 179.3C447.8 179.5 447.6 179.7 447.3 179.9C447.0 180.1 446.6 180.3 446.2 180.3C445.8 180.4 445.4 180.5 445.0 180.5C444.6 180.5 444.2 180.4 443.8 180.3C443.4 180.3 443.0 180.1 442.7 179.9C442.4 179.7 442.2 179.5 442.0 179.3C441.9 179.0 441.8 178.8 441.8 178.5C441.8 178.2 441.9 178.0 442.0 177.7C442.2 177.5 442.4 177.3 442.7 177.1C443.0 176.9 443.4 176.7 443.8 176.7C444.2 176.6 444.6 176.5 445.0 176.5C445.4 176.5 445.8 176.6 446.2 176.7C446.6 176.7 447.0 176.9 447.3 177.1C447.6 177.3 447.8 177.5 448.0 177.7C448.1 178.0 448.2 178.2 448.2 178.5Z" fill="#2488ff" fill-opacity="1"/><path d="M446.9 178.5C446.9 178.7 446.9 178.8 446.8 179.0C446.7 179.1 446.5 179.2 446.4 179.3C446.2 179.5 446.0 179.6 445.7 179.6C445.5 179.7 445.2 179.7 445.0 179.7C444.8 179.7 444.5 179.7 444.3 179.6C444.0 179.6 443.8 179.5 443.6 179.3C443.5 179.2 443.3 179.1 443.2 179.0C443.1 178.8 443.1 178.7 443.1 178.5C443.1 178.3 443.1 178.2 443.2 178.0C443.3 177.9 443.5 177.8 443.6 177.7C443.8 177.5 444.0 177.4 444.3 177.4C444.5 177.3 444.8 177.3 445.0 177.3C445.2 177.3 445.5 177.3 445.7 177.4C446.0 177.4 446.2 177.5 446.4 177.7C446.5 177.8 446.7 177.9 446.8 178.0C446.9 178.2 446.9 178.3 446.9 178.5Z" fill="#00dcff" fill-opacity="1"/>
</g>
<g fill="#fff" filter="url(#rough)"><ellipse cx="433" cy="92" rx="5" ry="7.5" opacity="0.8"/><ellipse cx="441.5" cy="104" rx="5" ry="4" opacity="0.75"/><ellipse cx="425" cy="105" rx="3.5" ry="3.5" opacity="0.7"/><ellipse cx="409" cy="107" rx="3" ry="2" opacity="0.6"/><ellipse cx="460" cy="106" rx="3" ry="2.5" opacity="0.6"/></g>
</g>
<path d="M394.8 124.9H402.3V122.7L410.8 126.9L402.3 131.1V128.9H394.8Z" fill="#f60a0a"/>
<g>
<path d="M329.5 204.0C331.7 203.6 334.1 203.6 336.0 204.5C337.9 205.4 339.0 208.6 341.0 209.5C343.0 210.4 345.3 209.8 348.0 210.0C350.7 210.2 354.0 209.9 357.0 211.0C360.0 212.1 363.5 214.5 366.0 216.5C368.5 218.5 370.1 220.2 372.0 223.0C373.9 225.8 376.0 229.5 377.5 233.0C379.0 236.5 380.9 240.5 381.0 244.0C381.1 247.5 379.5 251.2 378.0 254.0C376.5 256.8 374.4 258.8 372.0 260.5C369.6 262.2 366.5 263.4 363.5 264.5C360.5 265.6 357.2 266.8 354.0 267.0C350.8 267.2 347.7 266.8 344.0 266.0C340.3 265.2 335.5 263.3 332.0 262.0C328.5 260.7 325.7 259.2 323.0 258.0C320.3 256.8 318.1 256.5 316.0 255.0C313.9 253.5 311.5 251.0 310.5 249.0C309.5 247.0 309.4 245.2 310.0 243.0C310.6 240.8 312.8 238.3 314.0 236.0C315.2 233.7 316.6 231.3 317.0 229.0C317.4 226.7 316.1 224.7 316.3 222.0C316.5 219.3 316.9 215.5 318.0 213.0C319.1 210.5 321.1 208.5 323.0 207.0C324.9 205.5 327.3 204.4 329.5 204.0Z" fill="#4040dc" filter="url(#rough)"/>
<rect x="303" y="198" width="85" height="74" fill="#fff" opacity="0.1" filter="url(#mottle)"/>
<g filter="url(#hotf)">
<path d="M334.5 226.7C334.0 228.2 333.2 229.8 332.3 231.1C331.5 232.4 330.3 233.6 329.2 234.4C328.1 235.3 326.8 235.9 325.5 236.2C324.3 236.4 323.0 236.4 321.9 236.0C320.9 235.7 319.8 234.9 319.0 234.0C318.1 233.1 317.4 231.8 317.0 230.5C316.6 229.1 316.4 227.5 316.4 225.9C316.5 224.4 316.8 222.6 317.3 221.1C317.8 219.5 318.6 217.9 319.5 216.6C320.3 215.3 321.5 214.1 322.6 213.3C323.7 212.4 325.0 211.8 326.2 211.6C327.5 211.3 328.7 211.4 329.8 211.7C330.9 212.1 332.0 212.8 332.8 213.7C333.7 214.6 334.4 215.9 334.8 217.2C335.2 218.6 335.4 220.2 335.4 221.8C335.3 223.4 335.0 225.1 334.5 226.7Z" fill="#3458ea" fill-opacity="0.55"/><path d="M333.5 226.1C333.0 227.5 332.3 228.9 331.6 230.1C330.8 231.2 329.8 232.3 328.8 233.0C327.8 233.8 326.6 234.3 325.5 234.6C324.5 234.8 323.3 234.7 322.3 234.4C321.4 234.1 320.4 233.5 319.7 232.7C319.0 231.8 318.3 230.7 318.0 229.5C317.6 228.3 317.4 226.9 317.4 225.5C317.5 224.1 317.8 222.5 318.2 221.2C318.6 219.8 319.3 218.4 320.1 217.2C320.9 216.1 321.9 215.0 322.9 214.3C323.9 213.5 325.1 213.0 326.2 212.7C327.2 212.5 328.4 212.6 329.3 212.9C330.3 213.2 331.3 213.8 332.0 214.6C332.7 215.5 333.3 216.6 333.7 217.8C334.1 219.0 334.3 220.4 334.2 221.8C334.2 223.2 333.9 224.8 333.5 226.1Z" fill="#2488ff" fill-opacity="1"/><path d="M332.4 225.6C332.1 226.8 331.5 228.0 330.8 229.0C330.1 230.0 329.2 231.0 328.3 231.6C327.5 232.3 326.4 232.8 325.5 233.0C324.6 233.2 323.6 233.1 322.7 232.8C321.9 232.6 321.0 232.0 320.4 231.3C319.8 230.6 319.2 229.6 318.9 228.6C318.6 227.5 318.4 226.3 318.5 225.0C318.5 223.8 318.7 222.5 319.1 221.3C319.5 220.1 320.1 218.8 320.8 217.8C321.5 216.8 322.4 215.9 323.2 215.3C324.1 214.6 325.1 214.1 326.1 213.9C327.0 213.7 328.0 213.8 328.8 214.0C329.7 214.3 330.5 214.9 331.2 215.6C331.8 216.3 332.3 217.3 332.7 218.3C333.0 219.4 333.1 220.6 333.1 221.8C333.1 223.1 332.8 224.4 332.4 225.6Z" fill="#00e0ff" fill-opacity="1"/><path d="M331.3 225.0C330.9 226.0 330.4 227.0 329.9 227.9C329.3 228.7 328.6 229.5 327.8 230.0C327.1 230.6 326.3 231.0 325.5 231.1C324.7 231.3 323.9 231.3 323.2 231.0C322.5 230.8 321.8 230.3 321.2 229.7C320.7 229.2 320.3 228.3 320.0 227.5C319.7 226.6 319.6 225.5 319.6 224.5C319.6 223.5 319.8 222.4 320.2 221.4C320.5 220.4 321.0 219.4 321.6 218.5C322.1 217.7 322.9 216.9 323.6 216.4C324.3 215.8 325.2 215.4 325.9 215.3C326.7 215.1 327.6 215.1 328.3 215.4C329.0 215.6 329.7 216.1 330.2 216.7C330.7 217.2 331.2 218.1 331.4 218.9C331.7 219.8 331.9 220.9 331.8 221.9C331.8 222.9 331.6 224.0 331.3 225.0Z" fill="#30f4a0" fill-opacity="1"/><path d="M330.1 224.4C329.8 225.2 329.4 226.0 329.0 226.7C328.5 227.4 327.9 228.0 327.4 228.4C326.8 228.8 326.1 229.2 325.5 229.3C324.9 229.4 324.2 229.4 323.6 229.2C323.1 229.0 322.5 228.7 322.1 228.2C321.6 227.7 321.3 227.1 321.1 226.4C320.9 225.7 320.7 224.8 320.8 224.0C320.8 223.2 321.0 222.3 321.2 221.5C321.5 220.7 321.9 219.9 322.3 219.2C322.8 218.6 323.4 217.9 324.0 217.5C324.5 217.1 325.2 216.8 325.8 216.6C326.5 216.5 327.1 216.5 327.7 216.7C328.3 216.9 328.8 217.2 329.2 217.7C329.7 218.2 330.0 218.9 330.2 219.5C330.5 220.2 330.6 221.1 330.5 221.9C330.5 222.7 330.4 223.6 330.1 224.4Z" fill="#90ff40" fill-opacity="1"/><path d="M328.7 223.7C328.5 224.3 328.2 224.8 327.9 225.3C327.6 225.8 327.2 226.2 326.8 226.5C326.4 226.8 325.9 227.0 325.5 227.1C325.0 227.2 324.5 227.2 324.1 227.1C323.7 227.0 323.4 226.7 323.1 226.4C322.8 226.0 322.5 225.6 322.4 225.1C322.2 224.6 322.1 224.0 322.1 223.4C322.2 222.9 322.3 222.2 322.5 221.7C322.6 221.1 322.9 220.5 323.2 220.1C323.6 219.6 324.0 219.1 324.4 218.8C324.8 218.5 325.3 218.3 325.7 218.2C326.1 218.1 326.6 218.1 327.0 218.3C327.4 218.4 327.8 218.7 328.1 219.0C328.4 219.3 328.6 219.8 328.8 220.3C329.0 220.8 329.0 221.4 329.0 221.9C329.0 222.5 328.9 223.1 328.7 223.7Z" fill="#e0ff10" fill-opacity="1"/><path d="M327.2 222.9C327.1 223.3 327.0 223.6 326.8 223.8C326.6 224.1 326.4 224.3 326.2 224.5C325.9 224.7 325.7 224.8 325.4 224.9C325.2 224.9 324.9 224.9 324.7 224.8C324.5 224.8 324.3 224.6 324.1 224.4C323.9 224.2 323.8 224.0 323.7 223.7C323.6 223.4 323.6 223.1 323.6 222.8C323.6 222.5 323.7 222.1 323.8 221.8C323.9 221.5 324.0 221.2 324.2 220.9C324.4 220.7 324.6 220.4 324.8 220.2C325.1 220.1 325.3 219.9 325.6 219.9C325.8 219.8 326.1 219.9 326.3 219.9C326.5 220.0 326.7 220.1 326.9 220.3C327.1 220.5 327.2 220.8 327.3 221.0C327.4 221.3 327.4 221.6 327.4 222.0C327.4 222.3 327.3 222.6 327.2 222.9Z" fill="#fff000" fill-opacity="1"/>
<path d="M354.2 246.0C354.2 246.5 354.1 247.0 353.8 247.5C353.6 248.0 353.1 248.4 352.7 248.8C352.2 249.1 351.6 249.4 351.0 249.6C350.4 249.8 349.7 249.9 349.0 249.9C348.3 249.9 347.6 249.8 347.0 249.6C346.4 249.4 345.8 249.1 345.3 248.8C344.9 248.4 344.4 248.0 344.2 247.5C343.9 247.0 343.8 246.5 343.8 246.0C343.8 245.5 343.9 245.0 344.2 244.5C344.4 244.0 344.9 243.6 345.3 243.2C345.8 242.9 346.4 242.6 347.0 242.4C347.6 242.2 348.3 242.1 349.0 242.1C349.7 242.1 350.4 242.2 351.0 242.4C351.6 242.6 352.2 242.9 352.7 243.2C353.1 243.6 353.6 244.0 353.8 244.5C354.1 245.0 354.2 245.5 354.2 246.0Z" fill="#3a58e8" fill-opacity="0.3"/><path d="M352.4 246.0C352.4 246.3 352.3 246.7 352.1 247.0C352.0 247.3 351.7 247.6 351.4 247.8C351.1 248.0 350.7 248.2 350.3 248.4C349.9 248.5 349.4 248.6 349.0 248.6C348.6 248.6 348.1 248.5 347.7 248.4C347.3 248.2 346.9 248.0 346.6 247.8C346.3 247.6 346.0 247.3 345.9 247.0C345.7 246.7 345.6 246.3 345.6 246.0C345.6 245.7 345.7 245.3 345.9 245.0C346.0 244.7 346.3 244.4 346.6 244.2C346.9 244.0 347.3 243.8 347.7 243.6C348.1 243.5 348.6 243.4 349.0 243.4C349.4 243.4 349.9 243.5 350.3 243.6C350.7 243.8 351.1 244.0 351.4 244.2C351.7 244.4 352.0 244.7 352.1 245.0C352.3 245.3 352.4 245.7 352.4 246.0Z" fill="#3060f4" fill-opacity="0.4"/><path d="M350.8 246.0C350.8 246.2 350.8 246.4 350.7 246.5C350.6 246.7 350.4 246.8 350.3 247.0C350.1 247.1 349.9 247.2 349.7 247.2C349.5 247.3 349.2 247.3 349.0 247.3C348.8 247.3 348.5 247.3 348.3 247.2C348.1 247.2 347.9 247.1 347.7 247.0C347.6 246.8 347.4 246.7 347.3 246.5C347.2 246.4 347.2 246.2 347.2 246.0C347.2 245.8 347.2 245.6 347.3 245.5C347.4 245.3 347.6 245.2 347.7 245.0C347.9 244.9 348.1 244.8 348.3 244.8C348.5 244.7 348.8 244.7 349.0 244.7C349.2 244.7 349.5 244.7 349.7 244.8C349.9 244.8 350.1 244.9 350.3 245.0C350.4 245.2 350.6 245.3 350.7 245.5C350.8 245.6 350.8 245.8 350.8 246.0Z" fill="#2a6cff" fill-opacity="0.5"/>
</g>

</g>
<path d="M303.2 221.9H310.3V219.7L318.8 223.9L310.3 228.1V225.9H303.2Z" fill="#f60a0a"/>
<g>
<path d="M445.5 202.0C448.9 202.1 452.6 203.2 456.0 204.5C459.4 205.8 463.0 207.8 466.0 210.0C469.0 212.2 471.8 215.0 474.0 218.0C476.2 221.0 478.3 224.7 479.5 228.0C480.7 231.3 481.1 234.7 481.0 238.0C480.9 241.3 480.3 245.0 479.0 248.0C477.7 251.0 475.5 253.8 473.0 256.0C470.5 258.2 467.5 259.8 464.0 261.0C460.5 262.2 456.0 263.2 452.0 263.5C448.0 263.8 444.0 263.6 440.0 263.0C436.0 262.4 431.7 261.7 428.0 260.0C424.3 258.3 420.8 255.7 418.0 253.0C415.2 250.3 412.9 247.2 411.5 244.0C410.1 240.8 409.4 237.2 409.6 234.0C409.8 230.8 410.9 227.5 412.5 224.5C414.1 221.5 416.6 218.5 419.0 216.0C421.4 213.5 424.2 211.5 427.0 209.5C429.8 207.5 432.4 205.2 435.5 204.0C438.6 202.8 442.1 201.9 445.5 202.0Z" fill="#4040dc" filter="url(#rough)"/>
<rect x="403" y="196" width="85" height="72" fill="#fff" opacity="0.1" filter="url(#mottle)"/>
<g filter="url(#hotf)">
<path d="M427.9 233.1C428.2 235.2 428.2 237.4 428.0 239.3C427.8 241.3 427.3 243.3 426.6 244.8C426.0 246.4 425.0 247.8 424.0 248.7C423.0 249.7 421.7 250.3 420.4 250.5C419.2 250.6 417.8 250.4 416.6 249.8C415.3 249.2 414.0 248.1 412.9 246.8C411.8 245.4 410.8 243.7 410.1 241.9C409.4 240.1 408.8 237.9 408.5 235.9C408.2 233.8 408.2 231.6 408.4 229.7C408.6 227.7 409.1 225.7 409.8 224.2C410.4 222.6 411.4 221.2 412.4 220.3C413.4 219.3 414.7 218.7 416.0 218.5C417.2 218.4 418.6 218.6 419.8 219.2C421.1 219.8 422.4 220.9 423.5 222.2C424.6 223.6 425.6 225.3 426.3 227.1C427.0 228.9 427.6 231.1 427.9 233.1Z" fill="#3458ea" fill-opacity="0.55"/><path d="M426.8 233.3C427.1 235.1 427.1 237.1 426.9 238.8C426.7 240.5 426.3 242.3 425.7 243.7C425.1 245.0 424.2 246.3 423.3 247.1C422.4 248.0 421.3 248.5 420.2 248.7C419.1 248.8 417.9 248.6 416.7 248.0C415.6 247.5 414.5 246.5 413.5 245.4C412.6 244.2 411.7 242.6 411.0 241.0C410.4 239.4 409.8 237.5 409.6 235.7C409.3 233.9 409.3 231.9 409.5 230.2C409.7 228.5 410.1 226.7 410.7 225.3C411.3 224.0 412.2 222.7 413.1 221.9C414.0 221.0 415.1 220.5 416.2 220.3C417.3 220.2 418.5 220.4 419.7 221.0C420.8 221.5 421.9 222.5 422.9 223.6C423.8 224.8 424.7 226.4 425.4 228.0C426.0 229.6 426.6 231.5 426.8 233.3Z" fill="#2488ff" fill-opacity="1"/><path d="M425.7 233.4C425.9 235.0 426.0 236.7 425.8 238.3C425.6 239.8 425.3 241.3 424.7 242.5C424.2 243.7 423.5 244.8 422.7 245.5C421.9 246.2 420.9 246.7 419.9 246.9C419.0 247.0 417.9 246.8 416.9 246.3C416.0 245.8 415.0 245.0 414.1 244.0C413.3 243.0 412.5 241.6 411.9 240.2C411.4 238.8 410.9 237.1 410.7 235.6C410.5 234.0 410.4 232.3 410.6 230.7C410.8 229.2 411.1 227.7 411.7 226.5C412.2 225.3 412.9 224.2 413.7 223.5C414.5 222.8 415.5 222.3 416.5 222.1C417.4 222.0 418.5 222.2 419.5 222.7C420.4 223.2 421.4 224.0 422.3 225.0C423.1 226.0 423.9 227.4 424.5 228.8C425.0 230.2 425.5 231.9 425.7 233.4Z" fill="#00e0ff" fill-opacity="1"/><path d="M424.5 233.6C424.6 234.9 424.7 236.4 424.5 237.6C424.4 238.9 424.1 240.2 423.6 241.2C423.2 242.2 422.6 243.1 421.9 243.7C421.3 244.3 420.4 244.7 419.6 244.8C418.8 244.9 418.0 244.8 417.1 244.4C416.3 244.0 415.5 243.3 414.8 242.4C414.1 241.6 413.4 240.4 413.0 239.3C412.5 238.1 412.1 236.7 411.9 235.4C411.8 234.1 411.7 232.6 411.9 231.4C412.0 230.1 412.3 228.8 412.8 227.8C413.2 226.8 413.8 225.9 414.5 225.3C415.1 224.7 416.0 224.3 416.8 224.2C417.6 224.1 418.4 224.2 419.3 224.6C420.1 225.0 420.9 225.7 421.6 226.6C422.3 227.4 423.0 228.6 423.4 229.7C423.9 230.9 424.3 232.3 424.5 233.6Z" fill="#30f0b0" fill-opacity="1"/><path d="M423.2 233.8C423.4 234.8 423.4 236.0 423.3 237.0C423.2 238.0 422.9 239.0 422.6 239.8C422.2 240.6 421.7 241.4 421.2 241.8C420.7 242.3 420.0 242.6 419.4 242.7C418.7 242.8 418.0 242.7 417.4 242.4C416.7 242.1 416.0 241.5 415.5 240.8C414.9 240.1 414.4 239.2 414.0 238.3C413.6 237.4 413.3 236.3 413.2 235.2C413.0 234.2 413.0 233.0 413.1 232.0C413.2 231.0 413.5 230.0 413.8 229.2C414.2 228.4 414.7 227.6 415.2 227.2C415.7 226.7 416.4 226.4 417.0 226.3C417.7 226.2 418.4 226.3 419.0 226.6C419.7 226.9 420.4 227.5 420.9 228.2C421.5 228.9 422.0 229.8 422.4 230.7C422.8 231.6 423.1 232.7 423.2 233.8Z" fill="#58f050" fill-opacity="1"/><path d="M420.5 234.2C420.6 234.7 420.6 235.2 420.6 235.7C420.5 236.1 420.4 236.6 420.2 237.0C420.1 237.4 419.8 237.7 419.6 237.9C419.3 238.2 419.0 238.3 418.7 238.4C418.4 238.4 418.1 238.3 417.8 238.2C417.5 238.0 417.2 237.8 416.9 237.5C416.7 237.1 416.4 236.7 416.2 236.3C416.1 235.8 415.9 235.3 415.9 234.8C415.8 234.3 415.8 233.8 415.8 233.3C415.9 232.9 416.0 232.4 416.2 232.0C416.3 231.6 416.6 231.3 416.8 231.1C417.1 230.8 417.4 230.7 417.7 230.6C418.0 230.6 418.3 230.7 418.6 230.8C418.9 231.0 419.2 231.2 419.5 231.5C419.7 231.9 420.0 232.3 420.2 232.7C420.3 233.2 420.5 233.7 420.5 234.2Z" fill="#98f024" fill-opacity="1"/>
<path d="M456.6 240.0C456.6 240.7 456.5 241.5 456.4 242.2C456.3 242.9 456.1 243.6 455.8 244.1C455.6 244.7 455.3 245.1 455.0 245.4C454.7 245.7 454.3 245.8 454.0 245.8C453.7 245.8 453.3 245.7 453.0 245.4C452.7 245.1 452.4 244.7 452.2 244.1C451.9 243.6 451.7 242.9 451.6 242.2C451.5 241.5 451.4 240.7 451.4 240.0C451.4 239.3 451.5 238.5 451.6 237.8C451.7 237.1 451.9 236.4 452.2 235.9C452.4 235.3 452.7 234.9 453.0 234.6C453.3 234.3 453.7 234.2 454.0 234.2C454.3 234.2 454.7 234.3 455.0 234.6C455.3 234.9 455.6 235.3 455.8 235.9C456.1 236.4 456.3 237.1 456.4 237.8C456.5 238.5 456.6 239.3 456.6 240.0Z" fill="#3458ea" fill-opacity="0.55"/><path d="M456.0 240.0C456.0 240.6 455.9 241.2 455.8 241.7C455.8 242.3 455.6 242.8 455.4 243.2C455.2 243.6 455.0 243.9 454.8 244.2C454.5 244.4 454.3 244.5 454.0 244.5C453.7 244.5 453.5 244.4 453.2 244.2C453.0 243.9 452.8 243.6 452.6 243.2C452.4 242.8 452.2 242.3 452.2 241.7C452.1 241.2 452.0 240.6 452.0 240.0C452.0 239.4 452.1 238.8 452.2 238.3C452.2 237.7 452.4 237.2 452.6 236.8C452.8 236.4 453.0 236.1 453.2 235.8C453.5 235.6 453.7 235.5 454.0 235.5C454.3 235.5 454.5 235.6 454.8 235.8C455.0 236.1 455.2 236.4 455.4 236.8C455.6 237.2 455.8 237.7 455.8 238.3C455.9 238.8 456.0 239.4 456.0 240.0Z" fill="#2488ff" fill-opacity="1"/><path d="M455.2 240.0C455.2 240.3 455.2 240.7 455.1 241.0C455.1 241.4 455.0 241.7 454.8 241.9C454.7 242.2 454.6 242.4 454.5 242.5C454.3 242.6 454.2 242.7 454.0 242.7C453.8 242.7 453.7 242.6 453.5 242.5C453.4 242.4 453.3 242.2 453.2 241.9C453.0 241.7 452.9 241.4 452.9 241.0C452.8 240.7 452.8 240.3 452.8 240.0C452.8 239.7 452.8 239.3 452.9 239.0C452.9 238.6 453.0 238.3 453.2 238.1C453.3 237.8 453.4 237.6 453.5 237.5C453.7 237.4 453.8 237.3 454.0 237.3C454.2 237.3 454.3 237.4 454.5 237.5C454.6 237.6 454.7 237.8 454.8 238.1C455.0 238.3 455.1 238.6 455.1 239.0C455.2 239.3 455.2 239.7 455.2 240.0Z" fill="#00dcff" fill-opacity="1"/>
</g>
<g filter="url(#b1)" fill="#fff"><ellipse cx="444.5" cy="210.5" rx="4.5" ry="2.8" opacity="0.85"/><ellipse cx="447" cy="207" rx="2" ry="2" opacity="0.6"/><ellipse cx="433.8" cy="234" rx="1.6" ry="4.6" opacity="0.6"/><ellipse cx="437" cy="219" rx="2" ry="1.4" opacity="0.45"/><ellipse cx="435.5" cy="226" rx="1.5" ry="2" opacity="0.4"/><ellipse cx="461" cy="223" rx="2.2" ry="1.3" opacity="0.35"/></g>
</g>
<path d="M396.9 232.5H403.0V230.3L411.5 234.5L403.0 238.7V236.5H396.9Z" fill="#f60a0a"/>
<text x="248.5" y="126.3" font-size="12.8">SUV</text>
<rect x="249.9" y="130.3" width="2.6" height="92.4" fill="url(#cbar)"/>
<path d="M249.9 130.8H255.2M249.9 222.5H255.2" stroke="#1a1a2a" stroke-width="1.1" fill="none"/>
<text x="256.5" y="138.6" font-size="11.5" textLength="6.8" lengthAdjust="spacingAndGlyphs">2</text>
<text x="256.5" y="223.8" font-size="11.5" textLength="6.8" lengthAdjust="spacingAndGlyphs">0</text>
<text x="497.2" y="126.3" font-size="12.8">SUV</text>
<rect x="498.5" y="130.3" width="2.6" height="92.4" fill="url(#cbar)"/>
<path d="M498.5 130.8H503.8M498.5 222.5H503.8" stroke="#1a1a2a" stroke-width="1.1" fill="none"/>
<text x="505.1" y="138.6" font-size="11.5" textLength="6.8" lengthAdjust="spacingAndGlyphs">2</text>
<text x="505.1" y="223.8" font-size="11.5" textLength="6.8" lengthAdjust="spacingAndGlyphs">0</text>
<text x="3.3" y="317.5" font-size="20.4">B</text>
<g stroke="#000" stroke-width="1.2" fill="none">
<path d="M59.9 311.8V475.8H273.5"/>
<path d="M56.4 475.80H59.9"/>
<path d="M56.4 434.80H59.9"/>
<path d="M56.4 393.80H59.9"/>
<path d="M56.4 352.80H59.9"/>
<path d="M56.4 311.80H59.9"/>
<path d="M59.9 475.8V526.7"/>
<path d="M113.3 475.8V496.7"/>
<path d="M166.7 475.8V526.7"/>
<path d="M220.1 475.8V496.7"/>
<path d="M273.5 475.8V526.7"/>
</g>
<rect x="65.9" y="419.2" width="20.8" height="56.6" fill="#000"/>
<rect x="86.7" y="422.5" width="20.8" height="53.3" fill="#fff" stroke="#000" stroke-width="1"/>
<path d="M76.3 406.9V431.5M74.8 406.9h3M74.8 431.5h3" stroke="#000" stroke-width="0.9" fill="none"/>
<path d="M97.1 413.5V431.5M95.6 413.5h3M95.6 431.5h3" stroke="#000" stroke-width="0.9" fill="none"/>
<rect x="119.3" y="378.2" width="20.8" height="97.6" fill="#000"/>
<rect x="140.1" y="395.4" width="20.8" height="80.4" fill="#fff" stroke="#000" stroke-width="1"/>
<path d="M129.7 369.2V387.2M128.2 369.2h3M128.2 387.2h3" stroke="#000" stroke-width="0.9" fill="none"/>
<path d="M150.5 388.1V402.8M149.0 388.1h3M149.0 402.8h3" stroke="#000" stroke-width="0.9" fill="none"/>
<rect x="172.7" y="402.0" width="20.8" height="73.8" fill="#000"/>
<rect x="193.5" y="406.1" width="20.8" height="69.7" fill="#fff" stroke="#000" stroke-width="1"/>
<path d="M183.1 388.1V415.9M181.6 388.1h3M181.6 415.9h3" stroke="#000" stroke-width="0.9" fill="none"/>
<path d="M203.9 398.7V413.5M202.4 398.7h3M202.4 413.5h3" stroke="#000" stroke-width="0.9" fill="none"/>
<rect x="226.1" y="349.5" width="20.8" height="126.3" fill="#000"/>
<rect x="246.9" y="373.3" width="20.8" height="102.5" fill="#fff" stroke="#000" stroke-width="1"/>
<path d="M236.5 334.8V364.3M235.0 334.8h3M235.0 364.3h3" stroke="#000" stroke-width="0.9" fill="none"/>
<path d="M257.3 365.1V381.5M255.8 365.1h3M255.8 381.5h3" stroke="#000" stroke-width="0.9" fill="none"/>
<text x="51.9" y="479.7" font-size="10.2" text-anchor="end">0</text>
<text x="51.9" y="438.7" font-size="10.2" text-anchor="end">0.5</text>
<text x="51.9" y="397.7" font-size="10.2" text-anchor="end">1</text>
<text x="51.9" y="356.7" font-size="10.2" text-anchor="end">1.5</text>
<text x="51.9" y="315.7" font-size="10.2" text-anchor="end">2</text>
<text transform="translate(86.6 493.3) scale(0.905 1)" font-size="10.8" text-anchor="middle">SUVmean</text>
<text transform="translate(140.0 493.3) scale(0.905 1)" font-size="10.8" text-anchor="middle">SUVmax</text>
<text transform="translate(193.4 493.3) scale(0.905 1)" font-size="10.8" text-anchor="middle">SUVmean</text>
<text transform="translate(246.8 493.3) scale(0.905 1)" font-size="10.8" text-anchor="middle">SUVmax</text>
<text transform="translate(113.3 514.6) scale(0.92 1)" font-size="10.9" text-anchor="middle">[<tspan dy="-3.4" font-size="9.6">68</tspan><tspan dy="3.4">Ga]Ga-NODAGA-</tspan></text>
<text transform="translate(113.3 525.5) scale(0.925 1)" font-size="10.9" text-anchor="middle">AMBA</text>
<text transform="translate(220.1 514.6) scale(0.92 1)" font-size="10.9" text-anchor="middle">[<tspan dy="-3.4" font-size="9.6">44</tspan><tspan dy="3.4">Sc]Sc-NODAGA-</tspan></text>
<text transform="translate(220.1 525.5) scale(0.925 1)" font-size="10.9" text-anchor="middle">AMBA</text>
<text transform="translate(30.4 398.1) rotate(-90)" font-size="13.5" text-anchor="middle">SUV</text>
<rect x="77.1" y="316.2" width="5.1" height="4.7" fill="#000"/>
<text x="84.4" y="322.1" font-size="10.8" textLength="51.2" lengthAdjust="spacingAndGlyphs">PC3 60 min</text>
<rect x="148.3" y="316.4" width="4.2" height="4.6" fill="#fff" stroke="#000" stroke-width="1"/>
<text x="154.9" y="322.1" font-size="10.8" textLength="56.3" lengthAdjust="spacingAndGlyphs">PC3 120 min</text>
<g stroke="#000" stroke-width="1.2" fill="none">
<path d="M321.7 313.3V476.7H540.5"/>
<path d="M318.2 476.70H321.7"/>
<path d="M318.2 458.54H321.7"/>
<path d="M318.2 440.39H321.7"/>
<path d="M318.2 422.23H321.7"/>
<path d="M318.2 404.08H321.7"/>
<path d="M318.2 385.92H321.7"/>
<path d="M318.2 367.77H321.7"/>
<path d="M318.2 349.61H321.7"/>
<path d="M318.2 331.46H321.7"/>
<path d="M318.2 313.30H321.7"/>
<path d="M321.7 476.7V537.5"/>
<path d="M376.4 476.7V507.5"/>
<path d="M431.1 476.7V537.5"/>
<path d="M485.8 476.7V507.5"/>
<path d="M540.5 476.7V537.5"/>
</g>
<rect x="328.3" y="386.8" width="21.4" height="89.9" fill="#000"/>
<rect x="349.7" y="356.5" width="21.4" height="120.2" fill="#fff" stroke="#000" stroke-width="1"/>
<path d="M339.0 378.7V395.0M337.5 378.7h3M337.5 395.0h3" stroke="#000" stroke-width="0.9" fill="none"/>
<path d="M360.4 342.9V370.1M358.9 342.9h3M358.9 370.1h3" stroke="#000" stroke-width="0.9" fill="none"/>
<rect x="383.0" y="385.6" width="21.4" height="91.1" fill="#000"/>
<rect x="404.4" y="348.5" width="21.4" height="128.2" fill="#fff" stroke="#000" stroke-width="1"/>
<path d="M393.7 368.3V402.8M392.2 368.3h3M392.2 402.8h3" stroke="#000" stroke-width="0.9" fill="none"/>
<path d="M415.1 336.7V360.3M413.6 336.7h3M413.6 360.3h3" stroke="#000" stroke-width="0.9" fill="none"/>
<rect x="437.7" y="375.9" width="21.4" height="100.8" fill="#000"/>
<rect x="459.1" y="345.1" width="21.4" height="131.6" fill="#fff" stroke="#000" stroke-width="1"/>
<path d="M448.4 356.0V395.9M446.9 356.0h3M446.9 395.9h3" stroke="#000" stroke-width="0.9" fill="none"/>
<path d="M469.8 330.5V359.6M468.3 330.5h3M468.3 359.6h3" stroke="#000" stroke-width="0.9" fill="none"/>
<rect x="492.4" y="366.9" width="21.4" height="109.8" fill="#000"/>
<rect x="513.8" y="334.7" width="21.4" height="142.0" fill="#fff" stroke="#000" stroke-width="1"/>
<path d="M503.1 349.6V384.1M501.6 349.6h3M501.6 384.1h3" stroke="#000" stroke-width="0.9" fill="none"/>
<path d="M524.5 322.0V347.4M523.0 322.0h3M523.0 347.4h3" stroke="#000" stroke-width="0.9" fill="none"/>
<text x="313.8" y="480.6" font-size="10.2" text-anchor="end">0</text>
<text x="313.8" y="462.4" font-size="10.2" text-anchor="end">1</text>
<text x="313.8" y="444.3" font-size="10.2" text-anchor="end">2</text>
<text x="313.8" y="426.1" font-size="10.2" text-anchor="end">3</text>
<text x="313.8" y="408.0" font-size="10.2" text-anchor="end">4</text>
<text x="313.8" y="389.8" font-size="10.2" text-anchor="end">5</text>
<text x="313.8" y="371.7" font-size="10.2" text-anchor="end">6</text>
<text x="313.8" y="353.5" font-size="10.2" text-anchor="end">7</text>
<text x="313.8" y="335.4" font-size="10.2" text-anchor="end">8</text>
<text x="313.8" y="317.2" font-size="10.2" text-anchor="end">9</text>
<text transform="translate(349.1 493.8) scale(0.905 1)" font-size="10.8" text-anchor="middle">T/M</text>
<text transform="translate(349.1 505.7) scale(0.905 1)" font-size="10.7" text-anchor="middle">(SUVmean)</text>
<text transform="translate(403.8 493.8) scale(0.905 1)" font-size="10.8" text-anchor="middle">T/M</text>
<text transform="translate(403.8 505.7) scale(0.905 1)" font-size="10.7" text-anchor="middle">(SUVmax)</text>
<text transform="translate(458.4 493.8) scale(0.905 1)" font-size="10.8" text-anchor="middle">T/M</text>
<text transform="translate(458.4 505.7) scale(0.905 1)" font-size="10.7" text-anchor="middle">(SUVmean)</text>
<text transform="translate(513.1 493.8) scale(0.905 1)" font-size="10.8" text-anchor="middle">T/M</text>
<text transform="translate(513.1 505.7) scale(0.905 1)" font-size="10.7" text-anchor="middle">(SUVmax)</text>
<text transform="translate(376.4 526.2) scale(0.91 1)" font-size="10.9" text-anchor="middle">[<tspan dy="-3.4" font-size="9.6">68</tspan><tspan dy="3.4">Ga]Ga-NODAGA-</tspan></text>
<text transform="translate(376.4 537.4) scale(0.91 1)" font-size="10.9" text-anchor="middle">AMBA</text>
<text transform="translate(485.2 526.2) scale(0.91 1)" font-size="10.9" text-anchor="middle">[<tspan dy="-3.4" font-size="9.6">44</tspan><tspan dy="3.4">Sc]Sc-NODAGA-</tspan></text>
<text transform="translate(485.2 537.4) scale(0.91 1)" font-size="10.9" text-anchor="middle">AMBA</text>
<text transform="translate(298.9 397.4) rotate(-90)" font-size="13.1" text-anchor="middle">T/M ratio</text>
<rect x="338.9" y="316.2" width="5.1" height="4.7" fill="#000"/>
<text x="346.3" y="322.1" font-size="10.8" textLength="51.3" lengthAdjust="spacingAndGlyphs">PC3 60 min</text>
<rect x="409.9" y="316.4" width="4.2" height="4.6" fill="#fff" stroke="#000" stroke-width="1"/>
<text x="416.4" y="322.1" font-size="10.8" textLength="56.5" lengthAdjust="spacingAndGlyphs">PC3 120 min</text>
</svg>
</body></html>
